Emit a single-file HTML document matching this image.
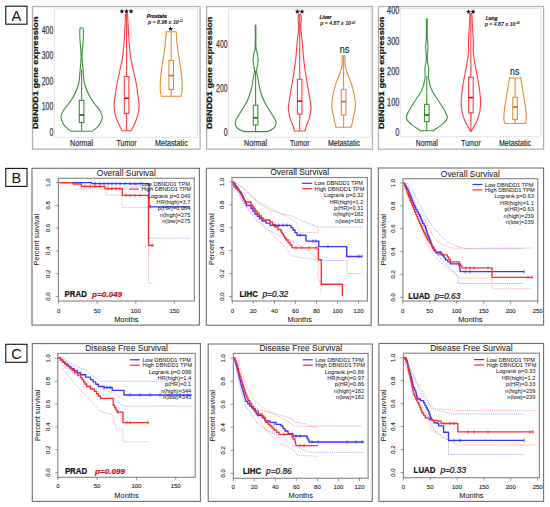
<!DOCTYPE html><html><head><meta charset="utf-8"><style>html,body{margin:0;padding:0;background:#fff;width:550px;height:507px;overflow:hidden;}svg{display:block;}</style></head><body>
<svg width="550" height="507" viewBox="0 0 550 507" font-family='"Liberation Sans", sans-serif'>
<rect x="0" y="0" width="550" height="507" fill="#fff"/>
<rect x="5.80" y="6.20" width="21.20" height="18.00" fill="none" stroke="#111" stroke-width="1.1"/>
<text x="16.40" y="20.60" font-size="14.6" fill="#111" text-anchor="middle">A</text>
<rect x="5.80" y="168.40" width="21.20" height="18.00" fill="none" stroke="#111" stroke-width="1.1"/>
<text x="16.40" y="182.80" font-size="14.6" fill="#111" text-anchor="middle">B</text>
<rect x="5.80" y="344.30" width="21.20" height="18.00" fill="none" stroke="#111" stroke-width="1.1"/>
<text x="16.40" y="358.70" font-size="14.6" fill="#111" text-anchor="middle">C</text>
<rect x="32.50" y="6.50" width="167.60" height="142.70" fill="none" stroke="#b0b0b0" stroke-width="1.25"/>
<rect x="54.30" y="9.00" width="143.30" height="128.30" fill="none" stroke="#dedede" stroke-width="0.8"/>
<text x="53.30" y="135.95" font-size="10.0" fill="#3a3a3a" stroke="#3a3a3a" stroke-width="0.25" text-anchor="end" textLength="3.87" lengthAdjust="spacingAndGlyphs">0</text>
<line x1="53.00" y1="132.40" x2="54.30" y2="132.40" stroke="#bbb" stroke-width="0.6"/>
<text x="53.30" y="110.40" font-size="10.0" fill="#3a3a3a" stroke="#3a3a3a" stroke-width="0.25" text-anchor="end" textLength="11.60" lengthAdjust="spacingAndGlyphs">100</text>
<line x1="53.00" y1="106.85" x2="54.30" y2="106.85" stroke="#bbb" stroke-width="0.6"/>
<text x="53.30" y="84.85" font-size="10.0" fill="#3a3a3a" stroke="#3a3a3a" stroke-width="0.25" text-anchor="end" textLength="11.60" lengthAdjust="spacingAndGlyphs">200</text>
<line x1="53.00" y1="81.30" x2="54.30" y2="81.30" stroke="#bbb" stroke-width="0.6"/>
<text x="53.30" y="59.30" font-size="10.0" fill="#3a3a3a" stroke="#3a3a3a" stroke-width="0.25" text-anchor="end" textLength="11.60" lengthAdjust="spacingAndGlyphs">300</text>
<line x1="53.00" y1="55.75" x2="54.30" y2="55.75" stroke="#bbb" stroke-width="0.6"/>
<text x="53.30" y="33.75" font-size="10.0" fill="#3a3a3a" stroke="#3a3a3a" stroke-width="0.25" text-anchor="end" textLength="11.60" lengthAdjust="spacingAndGlyphs">400</text>
<line x1="53.00" y1="30.20" x2="54.30" y2="30.20" stroke="#bbb" stroke-width="0.6"/>
<text x="37.90" y="72.80" font-size="7.6" fill="#111" stroke="#111" stroke-width="0.22" text-anchor="middle" font-weight="bold" textLength="112.5" lengthAdjust="spacingAndGlyphs" transform="rotate(-90 37.90 72.80)">DBNDD1 gene expression</text>
<text x="81.60" y="145.50" font-size="8.6" fill="#1e1e1e" stroke="#1e1e1e" stroke-width="0.16" text-anchor="middle" textLength="23" lengthAdjust="spacingAndGlyphs">Normal</text>
<line x1="81.60" y1="137.30" x2="81.60" y2="138.50" stroke="#bbb" stroke-width="0.6"/>
<text x="126.50" y="145.50" font-size="8.6" fill="#1e1e1e" stroke="#1e1e1e" stroke-width="0.16" text-anchor="middle" textLength="20" lengthAdjust="spacingAndGlyphs">Tumor</text>
<line x1="126.50" y1="137.30" x2="126.50" y2="138.50" stroke="#bbb" stroke-width="0.6"/>
<text x="171.40" y="145.50" font-size="8.6" fill="#1e1e1e" stroke="#1e1e1e" stroke-width="0.16" text-anchor="middle" textLength="32.7" lengthAdjust="spacingAndGlyphs">Metastatic</text>
<line x1="171.40" y1="137.30" x2="171.40" y2="138.50" stroke="#bbb" stroke-width="0.6"/>
<rect x="206.60" y="6.50" width="165.90" height="142.70" fill="none" stroke="#b0b0b0" stroke-width="1.25"/>
<rect x="228.60" y="9.00" width="142.40" height="128.20" fill="none" stroke="#dedede" stroke-width="0.8"/>
<text x="227.60" y="136.05" font-size="10.0" fill="#3a3a3a" stroke="#3a3a3a" stroke-width="0.25" text-anchor="end" textLength="3.83" lengthAdjust="spacingAndGlyphs">0</text>
<line x1="227.30" y1="132.50" x2="228.60" y2="132.50" stroke="#bbb" stroke-width="0.6"/>
<text x="227.60" y="91.85" font-size="10.0" fill="#3a3a3a" stroke="#3a3a3a" stroke-width="0.25" text-anchor="end" textLength="11.50" lengthAdjust="spacingAndGlyphs">200</text>
<line x1="227.30" y1="88.30" x2="228.60" y2="88.30" stroke="#bbb" stroke-width="0.6"/>
<text x="227.60" y="47.65" font-size="10.0" fill="#3a3a3a" stroke="#3a3a3a" stroke-width="0.25" text-anchor="end" textLength="11.50" lengthAdjust="spacingAndGlyphs">400</text>
<line x1="227.30" y1="44.10" x2="228.60" y2="44.10" stroke="#bbb" stroke-width="0.6"/>
<text x="212.40" y="72.80" font-size="7.6" fill="#111" stroke="#111" stroke-width="0.22" text-anchor="middle" font-weight="bold" textLength="112.5" lengthAdjust="spacingAndGlyphs" transform="rotate(-90 212.40 72.80)">DBNDD1 gene expression</text>
<text x="255.60" y="145.50" font-size="8.6" fill="#1e1e1e" stroke="#1e1e1e" stroke-width="0.16" text-anchor="middle" textLength="23" lengthAdjust="spacingAndGlyphs">Normal</text>
<line x1="255.60" y1="137.20" x2="255.60" y2="138.40" stroke="#bbb" stroke-width="0.6"/>
<text x="299.70" y="145.50" font-size="8.6" fill="#1e1e1e" stroke="#1e1e1e" stroke-width="0.16" text-anchor="middle" textLength="19.5" lengthAdjust="spacingAndGlyphs">Tumor</text>
<line x1="299.70" y1="137.20" x2="299.70" y2="138.40" stroke="#bbb" stroke-width="0.6"/>
<text x="344.00" y="145.50" font-size="8.6" fill="#1e1e1e" stroke="#1e1e1e" stroke-width="0.16" text-anchor="middle" textLength="32.1" lengthAdjust="spacingAndGlyphs">Metastatic</text>
<line x1="344.00" y1="137.20" x2="344.00" y2="138.40" stroke="#bbb" stroke-width="0.6"/>
<rect x="378.50" y="6.50" width="165.10" height="142.70" fill="none" stroke="#b0b0b0" stroke-width="1.25"/>
<rect x="400.30" y="8.50" width="140.70" height="128.30" fill="none" stroke="#dedede" stroke-width="0.8"/>
<text x="399.30" y="135.95" font-size="10.0" fill="#3a3a3a" stroke="#3a3a3a" stroke-width="0.25" text-anchor="end" textLength="4.07" lengthAdjust="spacingAndGlyphs">0</text>
<line x1="399.00" y1="132.40" x2="400.30" y2="132.40" stroke="#bbb" stroke-width="0.6"/>
<text x="399.30" y="105.50" font-size="10.0" fill="#3a3a3a" stroke="#3a3a3a" stroke-width="0.25" text-anchor="end" textLength="12.20" lengthAdjust="spacingAndGlyphs">100</text>
<line x1="399.00" y1="101.95" x2="400.30" y2="101.95" stroke="#bbb" stroke-width="0.6"/>
<text x="399.30" y="75.05" font-size="10.0" fill="#3a3a3a" stroke="#3a3a3a" stroke-width="0.25" text-anchor="end" textLength="12.20" lengthAdjust="spacingAndGlyphs">200</text>
<line x1="399.00" y1="71.50" x2="400.30" y2="71.50" stroke="#bbb" stroke-width="0.6"/>
<text x="399.30" y="44.60" font-size="10.0" fill="#3a3a3a" stroke="#3a3a3a" stroke-width="0.25" text-anchor="end" textLength="12.20" lengthAdjust="spacingAndGlyphs">300</text>
<line x1="399.00" y1="41.05" x2="400.30" y2="41.05" stroke="#bbb" stroke-width="0.6"/>
<text x="399.30" y="14.15" font-size="10.0" fill="#3a3a3a" stroke="#3a3a3a" stroke-width="0.25" text-anchor="end" textLength="12.20" lengthAdjust="spacingAndGlyphs">400</text>
<line x1="399.00" y1="10.60" x2="400.30" y2="10.60" stroke="#bbb" stroke-width="0.6"/>
<text x="383.60" y="72.80" font-size="7.6" fill="#111" stroke="#111" stroke-width="0.22" text-anchor="middle" font-weight="bold" textLength="112.5" lengthAdjust="spacingAndGlyphs" transform="rotate(-90 383.60 72.80)">DBNDD1 gene expression</text>
<text x="426.80" y="145.50" font-size="8.6" fill="#1e1e1e" stroke="#1e1e1e" stroke-width="0.16" text-anchor="middle" textLength="22.1" lengthAdjust="spacingAndGlyphs">Normal</text>
<line x1="426.80" y1="136.80" x2="426.80" y2="138.00" stroke="#bbb" stroke-width="0.6"/>
<text x="471.00" y="145.50" font-size="8.6" fill="#1e1e1e" stroke="#1e1e1e" stroke-width="0.16" text-anchor="middle" textLength="19.3" lengthAdjust="spacingAndGlyphs">Tumor</text>
<line x1="471.00" y1="136.80" x2="471.00" y2="138.00" stroke="#bbb" stroke-width="0.6"/>
<text x="515.00" y="145.50" font-size="8.6" fill="#1e1e1e" stroke="#1e1e1e" stroke-width="0.16" text-anchor="middle" textLength="32" lengthAdjust="spacingAndGlyphs">Metastatic</text>
<line x1="515.00" y1="136.80" x2="515.00" y2="138.00" stroke="#bbb" stroke-width="0.6"/>
<path d="M81.20,27.70 L82.00,27.70 C82.18,27.83 82.87,27.62 83.10,28.50 C83.33,29.38 83.40,30.75 83.40,33.00 C83.40,35.25 83.27,39.17 83.10,42.00 C82.93,44.83 82.58,47.53 82.40,50.00 C82.22,52.47 81.98,54.63 82.00,56.80 C82.02,58.97 82.32,60.73 82.50,63.00 C82.68,65.27 82.75,66.90 83.10,70.40 C83.45,73.90 83.52,79.68 84.60,84.00 C85.68,88.32 87.93,93.02 89.60,96.30 C91.27,99.58 92.85,101.25 94.60,103.70 C96.35,106.15 98.82,108.75 100.10,111.00 C101.38,113.25 102.30,115.13 102.30,117.20 C102.30,119.27 101.05,121.63 100.10,123.40 C99.15,125.17 97.93,126.48 96.60,127.80 C95.27,129.12 92.85,130.72 92.10,131.30 L71.10,131.30 C70.35,130.72 67.93,129.12 66.60,127.80 C65.27,126.48 64.05,125.17 63.10,123.40 C62.15,121.63 60.90,119.27 60.90,117.20 C60.90,115.13 61.82,113.25 63.10,111.00 C64.38,108.75 66.85,106.15 68.60,103.70 C70.35,101.25 71.93,99.58 73.60,96.30 C75.27,93.02 77.52,88.32 78.60,84.00 C79.68,79.68 79.75,73.90 80.10,70.40 C80.45,66.90 80.52,65.27 80.70,63.00 C80.88,60.73 81.18,58.97 81.20,56.80 C81.22,54.63 80.98,52.47 80.80,50.00 C80.62,47.53 80.27,44.83 80.10,42.00 C79.93,39.17 79.80,35.25 79.80,33.00 C79.80,30.75 79.87,29.38 80.10,28.50 C80.33,27.62 81.02,27.83 81.20,27.70 Z" fill="none" stroke="#3b8f3b" stroke-width="1.1" stroke-linejoin="round"/>
<line x1="81.60" y1="69.50" x2="81.60" y2="100.40" stroke="#3b8f3b" stroke-width="1.1"/>
<line x1="81.60" y1="122.50" x2="81.60" y2="131.30" stroke="#3b8f3b" stroke-width="1.1"/>
<rect x="79.30" y="100.40" width="4.60" height="22.10" fill="none" stroke="#3b8f3b" stroke-width="1.1"/>
<line x1="79.30" y1="115.00" x2="83.90" y2="115.00" stroke="#0f6a0f" stroke-width="1.6"/>
<path d="M126.30,13.90 L126.90,13.90 C127.02,14.05 127.40,12.98 127.60,14.80 C127.80,16.62 127.88,20.67 128.10,24.80 C128.32,28.93 128.48,34.27 128.90,39.60 C129.32,44.93 129.82,51.47 130.60,56.80 C131.38,62.13 132.65,67.07 133.60,71.60 C134.55,76.13 135.55,79.88 136.30,84.00 C137.05,88.12 137.63,92.63 138.10,96.30 C138.57,99.97 139.18,102.72 139.10,106.00 C139.02,109.28 138.52,112.70 137.60,116.00 C136.68,119.30 134.68,123.33 133.60,125.80 C132.52,128.27 131.52,129.97 131.10,130.80 L122.10,130.80 C121.68,129.97 120.68,128.27 119.60,125.80 C118.52,123.33 116.52,119.30 115.60,116.00 C114.68,112.70 114.18,109.28 114.10,106.00 C114.02,102.72 114.63,99.97 115.10,96.30 C115.57,92.63 116.15,88.12 116.90,84.00 C117.65,79.88 118.65,76.13 119.60,71.60 C120.55,67.07 121.82,62.13 122.60,56.80 C123.38,51.47 123.88,44.93 124.30,39.60 C124.72,34.27 124.88,28.93 125.10,24.80 C125.32,20.67 125.40,16.62 125.60,14.80 C125.80,12.98 126.18,14.05 126.30,13.90 Z" fill="none" stroke="#ff3b3b" stroke-width="1.1" stroke-linejoin="round"/>
<line x1="126.60" y1="14.00" x2="126.60" y2="76.50" stroke="#ff3b3b" stroke-width="1.1"/>
<line x1="126.60" y1="113.40" x2="126.60" y2="130.80" stroke="#ff3b3b" stroke-width="1.1"/>
<rect x="124.30" y="76.50" width="4.60" height="36.90" fill="none" stroke="#ff3b3b" stroke-width="1.1"/>
<line x1="124.30" y1="98.30" x2="128.90" y2="98.30" stroke="#e00000" stroke-width="1.6"/>
<path d="M166.60,31.70 L175.80,31.70 C175.87,31.92 175.92,30.42 176.20,33.00 C176.48,35.58 176.92,42.37 177.50,47.20 C178.08,52.03 179.00,57.07 179.70,62.00 C180.40,66.93 181.28,72.60 181.70,76.80 C182.12,81.00 182.18,84.50 182.20,87.20 C182.22,89.90 182.00,91.48 181.80,93.00 C181.60,94.52 181.13,95.75 181.00,96.30 L161.40,96.30 C161.27,95.75 160.80,94.52 160.60,93.00 C160.40,91.48 160.18,89.90 160.20,87.20 C160.22,84.50 160.28,81.00 160.70,76.80 C161.12,72.60 162.00,66.93 162.70,62.00 C163.40,57.07 164.32,52.03 164.90,47.20 C165.48,42.37 165.92,35.58 166.20,33.00 C166.48,30.42 166.53,31.92 166.60,31.70 Z" fill="none" stroke="#e38c34" stroke-width="1.1" stroke-linejoin="round"/>
<line x1="171.20" y1="31.70" x2="171.20" y2="60.50" stroke="#e38c34" stroke-width="1.1"/>
<line x1="171.20" y1="89.40" x2="171.20" y2="96.30" stroke="#e38c34" stroke-width="1.1"/>
<rect x="168.90" y="60.50" width="4.60" height="28.90" fill="none" stroke="#e38c34" stroke-width="1.1"/>
<line x1="168.90" y1="75.60" x2="173.50" y2="75.60" stroke="#c86a10" stroke-width="1.6"/>
<path d="M255.40,25.70 L255.80,25.70 C255.82,25.92 255.87,23.45 255.90,27.00 C255.93,30.55 255.78,42.67 256.00,47.00 C256.22,51.33 256.85,50.83 257.20,53.00 C257.55,55.17 258.07,57.83 258.10,60.00 C258.13,62.17 257.65,64.17 257.40,66.00 C257.15,67.83 256.48,68.83 256.60,71.00 C256.72,73.17 257.67,76.43 258.10,79.00 C258.53,81.57 258.62,83.73 259.20,86.40 C259.78,89.07 260.65,92.28 261.60,95.00 C262.55,97.72 263.82,100.53 264.90,102.70 C265.98,104.87 266.93,106.08 268.10,108.00 C269.27,109.92 270.78,112.37 271.90,114.20 C273.02,116.03 274.12,117.63 274.80,119.00 C275.48,120.37 275.90,121.23 276.00,122.40 C276.10,123.57 275.97,124.90 275.40,126.00 C274.83,127.10 273.90,128.07 272.60,129.00 C271.30,129.93 268.43,131.17 267.60,131.60 L243.60,131.60 C242.77,131.17 239.90,129.93 238.60,129.00 C237.30,128.07 236.37,127.10 235.80,126.00 C235.23,124.90 235.10,123.57 235.20,122.40 C235.30,121.23 235.72,120.37 236.40,119.00 C237.08,117.63 238.18,116.03 239.30,114.20 C240.42,112.37 241.93,109.92 243.10,108.00 C244.27,106.08 245.22,104.87 246.30,102.70 C247.38,100.53 248.65,97.72 249.60,95.00 C250.55,92.28 251.42,89.07 252.00,86.40 C252.58,83.73 252.67,81.57 253.10,79.00 C253.53,76.43 254.48,73.17 254.60,71.00 C254.72,68.83 254.05,67.83 253.80,66.00 C253.55,64.17 253.07,62.17 253.10,60.00 C253.13,57.83 253.65,55.17 254.00,53.00 C254.35,50.83 254.98,51.33 255.20,47.00 C255.42,42.67 255.27,30.55 255.30,27.00 C255.33,23.45 255.38,25.92 255.40,25.70 Z" fill="none" stroke="#3b8f3b" stroke-width="1.1" stroke-linejoin="round"/>
<line x1="255.60" y1="71.00" x2="255.60" y2="105.20" stroke="#3b8f3b" stroke-width="1.1"/>
<line x1="255.60" y1="125.00" x2="255.60" y2="131.60" stroke="#3b8f3b" stroke-width="1.1"/>
<rect x="253.30" y="105.20" width="4.60" height="19.80" fill="none" stroke="#3b8f3b" stroke-width="1.1"/>
<line x1="253.30" y1="117.80" x2="257.90" y2="117.80" stroke="#0f6a0f" stroke-width="1.6"/>
<path d="M299.10,14.40 L300.30,14.40 C300.43,14.55 300.93,14.37 301.10,15.30 C301.27,16.23 301.37,18.00 301.30,20.00 C301.23,22.00 300.55,23.63 300.70,27.30 C300.85,30.97 301.70,36.65 302.20,42.00 C302.70,47.35 303.12,54.03 303.70,59.40 C304.28,64.77 304.95,69.27 305.70,74.20 C306.45,79.13 307.45,84.47 308.20,89.00 C308.95,93.53 309.73,98.10 310.20,101.40 C310.67,104.70 311.17,105.93 311.00,108.80 C310.83,111.67 310.00,115.73 309.20,118.60 C308.40,121.47 306.87,123.93 306.20,126.00 C305.53,128.07 305.37,130.17 305.20,131.00 L294.20,131.00 C294.03,130.17 293.87,128.07 293.20,126.00 C292.53,123.93 291.00,121.47 290.20,118.60 C289.40,115.73 288.57,111.67 288.40,108.80 C288.23,105.93 288.73,104.70 289.20,101.40 C289.67,98.10 290.45,93.53 291.20,89.00 C291.95,84.47 292.95,79.13 293.70,74.20 C294.45,69.27 295.12,64.77 295.70,59.40 C296.28,54.03 296.70,47.35 297.20,42.00 C297.70,36.65 298.55,30.97 298.70,27.30 C298.85,23.63 298.17,22.00 298.10,20.00 C298.03,18.00 298.13,16.23 298.30,15.30 C298.47,14.37 298.97,14.55 299.10,14.40 Z" fill="none" stroke="#ff3b3b" stroke-width="1.1" stroke-linejoin="round"/>
<line x1="299.70" y1="14.40" x2="299.70" y2="79.30" stroke="#ff3b3b" stroke-width="1.1"/>
<line x1="299.70" y1="114.20" x2="299.70" y2="131.00" stroke="#ff3b3b" stroke-width="1.1"/>
<rect x="297.40" y="79.30" width="4.60" height="34.90" fill="none" stroke="#ff3b3b" stroke-width="1.1"/>
<line x1="297.40" y1="101.10" x2="302.00" y2="101.10" stroke="#e00000" stroke-width="1.6"/>
<path d="M342.30,55.70 L344.90,55.70 C344.92,55.92 344.97,55.57 345.00,57.00 C345.03,58.43 344.83,61.85 345.10,64.30 C345.37,66.75 345.68,68.82 346.60,71.70 C347.52,74.58 349.35,77.88 350.60,81.60 C351.85,85.32 353.30,89.88 354.10,94.00 C354.90,98.12 355.48,102.60 355.40,106.30 C355.32,110.00 354.15,113.32 353.60,116.20 C353.05,119.08 352.52,121.75 352.10,123.60 C351.68,125.45 351.27,126.68 351.10,127.30 L336.10,127.30 C335.93,126.68 335.52,125.45 335.10,123.60 C334.68,121.75 334.15,119.08 333.60,116.20 C333.05,113.32 331.88,110.00 331.80,106.30 C331.72,102.60 332.30,98.12 333.10,94.00 C333.90,89.88 335.35,85.32 336.60,81.60 C337.85,77.88 339.68,74.58 340.60,71.70 C341.52,68.82 341.83,66.75 342.10,64.30 C342.37,61.85 342.17,58.43 342.20,57.00 C342.23,55.57 342.28,55.92 342.30,55.70 Z" fill="none" stroke="#e38c34" stroke-width="1.1" stroke-linejoin="round"/>
<line x1="343.60" y1="55.70" x2="343.60" y2="89.60" stroke="#e38c34" stroke-width="1.1"/>
<line x1="343.60" y1="115.00" x2="343.60" y2="127.30" stroke="#e38c34" stroke-width="1.1"/>
<rect x="341.30" y="89.60" width="4.60" height="25.40" fill="none" stroke="#e38c34" stroke-width="1.1"/>
<line x1="341.30" y1="101.60" x2="345.90" y2="101.60" stroke="#c86a10" stroke-width="1.6"/>
<path d="M426.60,19.40 L427.00,19.40 C427.03,19.58 427.15,17.40 427.20,20.50 C427.25,23.60 427.17,33.58 427.30,38.00 C427.43,42.42 428.00,44.00 428.00,47.00 C428.00,50.00 427.35,53.33 427.30,56.00 C427.25,58.67 427.45,60.83 427.70,63.00 C427.95,65.17 428.68,66.83 428.80,69.00 C428.92,71.17 428.23,73.50 428.40,76.00 C428.57,78.50 429.15,81.45 429.80,84.00 C430.45,86.55 430.80,88.43 432.30,91.30 C433.80,94.17 436.72,97.92 438.80,101.20 C440.88,104.48 443.38,108.33 444.80,111.00 C446.22,113.67 447.30,115.33 447.30,117.20 C447.30,119.07 446.55,120.35 444.80,122.20 C443.05,124.05 438.80,126.87 436.80,128.30 C434.80,129.73 433.47,130.38 432.80,130.80 L420.80,130.80 C420.13,130.38 418.80,129.73 416.80,128.30 C414.80,126.87 410.55,124.05 408.80,122.20 C407.05,120.35 406.30,119.07 406.30,117.20 C406.30,115.33 407.38,113.67 408.80,111.00 C410.22,108.33 412.72,104.48 414.80,101.20 C416.88,97.92 419.80,94.17 421.30,91.30 C422.80,88.43 423.15,86.55 423.80,84.00 C424.45,81.45 425.03,78.50 425.20,76.00 C425.37,73.50 424.68,71.17 424.80,69.00 C424.92,66.83 425.65,65.17 425.90,63.00 C426.15,60.83 426.35,58.67 426.30,56.00 C426.25,53.33 425.60,50.00 425.60,47.00 C425.60,44.00 426.17,42.42 426.30,38.00 C426.43,33.58 426.35,23.60 426.40,20.50 C426.45,17.40 426.57,19.58 426.60,19.40 Z" fill="none" stroke="#3b8f3b" stroke-width="1.1" stroke-linejoin="round"/>
<line x1="426.80" y1="76.00" x2="426.80" y2="104.40" stroke="#3b8f3b" stroke-width="1.1"/>
<line x1="426.80" y1="121.60" x2="426.80" y2="130.80" stroke="#3b8f3b" stroke-width="1.1"/>
<rect x="424.50" y="104.40" width="4.60" height="17.20" fill="none" stroke="#3b8f3b" stroke-width="1.1"/>
<line x1="424.50" y1="115.00" x2="429.10" y2="115.00" stroke="#0f6a0f" stroke-width="1.6"/>
<path d="M470.60,13.70 L471.20,13.70 C471.32,13.85 471.70,12.75 471.90,14.60 C472.10,16.45 472.15,20.23 472.40,24.80 C472.65,29.37 473.27,37.68 473.40,42.00 C473.53,46.32 472.95,47.00 473.20,50.70 C473.45,54.40 474.20,59.90 474.90,64.20 C475.60,68.50 476.65,72.38 477.40,76.50 C478.15,80.62 478.87,84.78 479.40,88.90 C479.93,93.02 480.52,97.52 480.60,101.20 C480.68,104.88 480.52,107.70 479.90,111.00 C479.28,114.30 478.07,118.12 476.90,121.00 C475.73,123.88 473.82,126.58 472.90,128.30 C471.98,130.02 471.65,130.80 471.40,131.30 L470.40,131.30 C470.15,130.80 469.82,130.02 468.90,128.30 C467.98,126.58 466.07,123.88 464.90,121.00 C463.73,118.12 462.52,114.30 461.90,111.00 C461.28,107.70 461.12,104.88 461.20,101.20 C461.28,97.52 461.87,93.02 462.40,88.90 C462.93,84.78 463.65,80.62 464.40,76.50 C465.15,72.38 466.20,68.50 466.90,64.20 C467.60,59.90 468.35,54.40 468.60,50.70 C468.85,47.00 468.27,46.32 468.40,42.00 C468.53,37.68 469.15,29.37 469.40,24.80 C469.65,20.23 469.70,16.45 469.90,14.60 C470.10,12.75 470.48,13.85 470.60,13.70 Z" fill="none" stroke="#ff3b3b" stroke-width="1.1" stroke-linejoin="round"/>
<line x1="470.90" y1="13.70" x2="470.90" y2="77.30" stroke="#ff3b3b" stroke-width="1.1"/>
<line x1="470.90" y1="112.80" x2="470.90" y2="131.30" stroke="#ff3b3b" stroke-width="1.1"/>
<rect x="468.60" y="77.30" width="4.60" height="35.50" fill="none" stroke="#ff3b3b" stroke-width="1.1"/>
<line x1="468.60" y1="97.60" x2="473.20" y2="97.60" stroke="#e00000" stroke-width="1.6"/>
<path d="M509.60,78.00 L520.60,78.00 C520.65,78.17 520.43,76.25 520.90,79.00 C521.37,81.75 522.62,89.62 523.40,94.50 C524.18,99.38 525.10,104.38 525.60,108.30 C526.10,112.22 526.35,115.80 526.40,118.00 C526.45,120.20 526.12,120.58 525.90,121.50 C525.68,122.42 525.23,123.17 525.10,123.50 L505.10,123.50 C504.97,123.17 504.52,122.42 504.30,121.50 C504.08,120.58 503.75,120.20 503.80,118.00 C503.85,115.80 504.10,112.22 504.60,108.30 C505.10,104.38 506.02,99.38 506.80,94.50 C507.58,89.62 508.83,81.75 509.30,79.00 C509.77,76.25 509.55,78.17 509.60,78.00 Z" fill="none" stroke="#e38c34" stroke-width="1.1" stroke-linejoin="round"/>
<line x1="515.10" y1="78.00" x2="515.10" y2="97.30" stroke="#e38c34" stroke-width="1.1"/>
<line x1="515.10" y1="119.40" x2="515.10" y2="123.50" stroke="#e38c34" stroke-width="1.1"/>
<rect x="512.80" y="97.30" width="4.60" height="22.10" fill="none" stroke="#e38c34" stroke-width="1.1"/>
<line x1="512.80" y1="107.00" x2="517.40" y2="107.00" stroke="#c86a10" stroke-width="1.6"/>
<polygon points="121.90,8.85 122.57,10.47 124.33,10.61 122.99,11.75 123.40,13.46 121.90,12.55 120.40,13.46 120.81,11.75 119.47,10.61 121.23,10.47" fill="#111"/>
<polygon points="126.50,8.85 127.17,10.47 128.93,10.61 127.59,11.75 128.00,13.46 126.50,12.55 125.00,13.46 125.41,11.75 124.07,10.61 125.83,10.47" fill="#111"/>
<polygon points="131.10,8.85 131.77,10.47 133.53,10.61 132.19,11.75 132.60,13.46 131.10,12.55 129.60,13.46 130.01,11.75 128.67,10.61 130.43,10.47" fill="#111"/>
<polygon points="170.60,26.35 171.27,27.97 173.03,28.11 171.69,29.25 172.10,30.96 170.60,30.05 169.10,30.96 169.51,29.25 168.17,28.11 169.93,27.97" fill="#111"/>
<polygon points="297.40,9.05 298.07,10.67 299.83,10.81 298.49,11.95 298.90,13.66 297.40,12.75 295.90,13.66 296.31,11.95 294.97,10.81 296.73,10.67" fill="#111"/>
<polygon points="302.00,9.05 302.67,10.67 304.43,10.81 303.09,11.95 303.50,13.66 302.00,12.75 300.50,13.66 300.91,11.95 299.57,10.81 301.33,10.67" fill="#111"/>
<polygon points="468.50,9.25 469.17,10.87 470.93,11.01 469.59,12.15 470.00,13.86 468.50,12.95 467.00,13.86 467.41,12.15 466.07,11.01 467.83,10.87" fill="#111"/>
<polygon points="473.10,9.25 473.77,10.87 475.53,11.01 474.19,12.15 474.60,13.86 473.10,12.95 471.60,13.86 472.01,12.15 470.67,11.01 472.43,10.87" fill="#111"/>
<text x="344.50" y="52.60" font-size="10.4" fill="#111" stroke="#111" stroke-width="0.1" text-anchor="middle" textLength="9.6" lengthAdjust="spacingAndGlyphs">ns</text>
<text x="514.70" y="74.60" font-size="10.4" fill="#111" stroke="#111" stroke-width="0.1" text-anchor="middle" textLength="9.4" lengthAdjust="spacingAndGlyphs">ns</text>
<text x="146.70" y="18.10" font-size="5.8" fill="#111" stroke="#111" stroke-width="0.22" font-weight="bold" font-style="italic" textLength="20.0" lengthAdjust="spacingAndGlyphs">Prostate</text>
<text x="148.00" y="24.10" font-size="5.2" font-weight="bold" font-style="italic" fill="#111">p = 8.96 x 10<tspan font-size="3.0" dy="-1.8">-11</tspan></text>
<text x="319.40" y="19.00" font-size="5.8" fill="#111" stroke="#111" stroke-width="0.22" font-weight="bold" font-style="italic" textLength="12.2" lengthAdjust="spacingAndGlyphs">Liver</text>
<text x="320.20" y="25.40" font-size="5.2" font-weight="bold" font-style="italic" fill="#111">p = 4.87 x 10<tspan font-size="3.0" dy="-1.8">-43</tspan></text>
<text x="485.70" y="19.90" font-size="5.8" fill="#111" stroke="#111" stroke-width="0.22" font-weight="bold" font-style="italic" textLength="11.6" lengthAdjust="spacingAndGlyphs">Lung</text>
<text x="484.70" y="26.20" font-size="5.2" font-weight="bold" font-style="italic" fill="#111">p = 4.87 x 10<tspan font-size="3.0" dy="-1.8">-43</tspan></text>
<rect x="32.00" y="168.30" width="167.40" height="156.80" fill="none" stroke="#6e6e6e" stroke-width="1.1"/>
<rect x="58.40" y="178.30" width="135.90" height="122.70" fill="none" stroke="#888888" stroke-width="1.15"/>
<line x1="55.60" y1="296.50" x2="58.40" y2="296.50" stroke="#555" stroke-width="0.6"/>
<text x="48.40" y="296.50" font-size="6.0" fill="#1a1a1a" stroke="#1a1a1a" stroke-width="0.1" text-anchor="middle" transform="rotate(-90 48.40 296.50)" dominant-baseline="central">0.0</text>
<line x1="55.60" y1="273.72" x2="58.40" y2="273.72" stroke="#555" stroke-width="0.6"/>
<text x="48.40" y="273.72" font-size="6.0" fill="#1a1a1a" stroke="#1a1a1a" stroke-width="0.1" text-anchor="middle" transform="rotate(-90 48.40 273.72)" dominant-baseline="central">0.2</text>
<line x1="55.60" y1="250.94" x2="58.40" y2="250.94" stroke="#555" stroke-width="0.6"/>
<text x="48.40" y="250.94" font-size="6.0" fill="#1a1a1a" stroke="#1a1a1a" stroke-width="0.1" text-anchor="middle" transform="rotate(-90 48.40 250.94)" dominant-baseline="central">0.4</text>
<line x1="55.60" y1="228.16" x2="58.40" y2="228.16" stroke="#555" stroke-width="0.6"/>
<text x="48.40" y="228.16" font-size="6.0" fill="#1a1a1a" stroke="#1a1a1a" stroke-width="0.1" text-anchor="middle" transform="rotate(-90 48.40 228.16)" dominant-baseline="central">0.6</text>
<line x1="55.60" y1="205.38" x2="58.40" y2="205.38" stroke="#555" stroke-width="0.6"/>
<text x="48.40" y="205.38" font-size="6.0" fill="#1a1a1a" stroke="#1a1a1a" stroke-width="0.1" text-anchor="middle" transform="rotate(-90 48.40 205.38)" dominant-baseline="central">0.8</text>
<line x1="55.60" y1="182.60" x2="58.40" y2="182.60" stroke="#555" stroke-width="0.6"/>
<text x="48.40" y="182.60" font-size="6.0" fill="#1a1a1a" stroke="#1a1a1a" stroke-width="0.1" text-anchor="middle" transform="rotate(-90 48.40 182.60)" dominant-baseline="central">1.0</text>
<line x1="58.60" y1="301.00" x2="58.60" y2="303.80" stroke="#555" stroke-width="0.6"/>
<text x="58.60" y="313.00" font-size="6.0" fill="#1a1a1a" stroke="#1a1a1a" stroke-width="0.1" text-anchor="middle">0</text>
<line x1="97.20" y1="301.00" x2="97.20" y2="303.80" stroke="#555" stroke-width="0.6"/>
<text x="97.20" y="313.00" font-size="6.0" fill="#1a1a1a" stroke="#1a1a1a" stroke-width="0.1" text-anchor="middle">50</text>
<line x1="135.80" y1="301.00" x2="135.80" y2="303.80" stroke="#555" stroke-width="0.6"/>
<text x="135.80" y="313.00" font-size="6.0" fill="#1a1a1a" stroke="#1a1a1a" stroke-width="0.1" text-anchor="middle">100</text>
<line x1="174.40" y1="301.00" x2="174.40" y2="303.80" stroke="#555" stroke-width="0.6"/>
<text x="174.40" y="313.00" font-size="6.0" fill="#1a1a1a" stroke="#1a1a1a" stroke-width="0.1" text-anchor="middle">150</text>
<text x="126.35" y="176.10" font-size="8.5" fill="#111" stroke="#111" stroke-width="0.03" text-anchor="middle" textLength="59" lengthAdjust="spacingAndGlyphs">Overall Survival</text>
<text x="126.35" y="321.90" font-size="8.0" fill="#111" stroke="#111" stroke-width="0.05" text-anchor="middle" textLength="24.3" lengthAdjust="spacingAndGlyphs">Months</text>
<text x="36.80" y="239.65" font-size="8.0" fill="#1a1a1a" stroke="#1a1a1a" stroke-width="0.05" text-anchor="middle" textLength="51.5" lengthAdjust="spacingAndGlyphs" transform="rotate(-90 36.80 239.65)" dominant-baseline="central">Percent survival</text>
<polyline points="75.00,189.00 106.00,189.00 106.00,195.00 122.00,195.00 122.00,207.40 148.50,207.40 148.50,283.30 153.00,283.30" fill="none" stroke="#ff8a8a" stroke-width="0.7" stroke-linejoin="round" stroke-dasharray="1.2,0.9"/>
<polyline points="149.00,238.20 190.00,238.20" fill="none" stroke="#8c8cff" stroke-width="0.7" stroke-linejoin="round" stroke-dasharray="1.2,0.9"/>
<polyline points="92.00,187.00 149.00,187.00" fill="none" stroke="#8c8cff" stroke-width="0.7" stroke-linejoin="round" stroke-dasharray="1.2,0.9"/>
<polyline points="59.50,182.60 91.40,182.60 91.40,183.60 149.00,183.60 149.00,206.80 190.00,206.80" fill="none" stroke="#3636ff" stroke-width="1.35" stroke-linejoin="round"/>
<polyline points="59.50,182.60 73.20,182.60 73.20,184.00 81.40,184.00 81.40,186.30 105.00,186.30 105.00,188.60 122.30,188.60 122.30,195.40 148.50,195.40 148.50,245.30 154.00,245.30" fill="none" stroke="#ff2a2a" stroke-width="1.35" stroke-linejoin="round"/>
<line x1="95.00" y1="181.90" x2="95.00" y2="185.30" stroke="#3636ff" stroke-width="0.8"/>
<line x1="100.00" y1="181.90" x2="100.00" y2="185.30" stroke="#3636ff" stroke-width="0.8"/>
<line x1="104.00" y1="181.90" x2="104.00" y2="185.30" stroke="#3636ff" stroke-width="0.8"/>
<line x1="108.00" y1="181.90" x2="108.00" y2="185.30" stroke="#3636ff" stroke-width="0.8"/>
<line x1="112.00" y1="181.90" x2="112.00" y2="185.30" stroke="#3636ff" stroke-width="0.8"/>
<line x1="116.00" y1="181.90" x2="116.00" y2="185.30" stroke="#3636ff" stroke-width="0.8"/>
<line x1="120.00" y1="181.90" x2="120.00" y2="185.30" stroke="#3636ff" stroke-width="0.8"/>
<line x1="125.00" y1="181.90" x2="125.00" y2="185.30" stroke="#3636ff" stroke-width="0.8"/>
<line x1="130.00" y1="181.90" x2="130.00" y2="185.30" stroke="#3636ff" stroke-width="0.8"/>
<line x1="135.00" y1="181.90" x2="135.00" y2="185.30" stroke="#3636ff" stroke-width="0.8"/>
<line x1="140.00" y1="181.90" x2="140.00" y2="185.30" stroke="#3636ff" stroke-width="0.8"/>
<line x1="85.00" y1="184.60" x2="85.00" y2="188.00" stroke="#ff2a2a" stroke-width="0.8"/>
<line x1="90.00" y1="184.60" x2="90.00" y2="188.00" stroke="#ff2a2a" stroke-width="0.8"/>
<line x1="95.00" y1="184.60" x2="95.00" y2="188.00" stroke="#ff2a2a" stroke-width="0.8"/>
<line x1="100.00" y1="184.60" x2="100.00" y2="188.00" stroke="#ff2a2a" stroke-width="0.8"/>
<line x1="108.00" y1="186.90" x2="108.00" y2="190.30" stroke="#ff2a2a" stroke-width="0.8"/>
<line x1="112.00" y1="186.90" x2="112.00" y2="190.30" stroke="#ff2a2a" stroke-width="0.8"/>
<line x1="116.00" y1="186.90" x2="116.00" y2="190.30" stroke="#ff2a2a" stroke-width="0.8"/>
<line x1="120.00" y1="186.90" x2="120.00" y2="190.30" stroke="#ff2a2a" stroke-width="0.8"/>
<line x1="126.00" y1="193.70" x2="126.00" y2="197.10" stroke="#ff2a2a" stroke-width="0.8"/>
<line x1="130.00" y1="193.70" x2="130.00" y2="197.10" stroke="#ff2a2a" stroke-width="0.8"/>
<line x1="135.00" y1="193.70" x2="135.00" y2="197.10" stroke="#ff2a2a" stroke-width="0.8"/>
<line x1="140.00" y1="193.70" x2="140.00" y2="197.10" stroke="#ff2a2a" stroke-width="0.8"/>
<line x1="150.50" y1="205.10" x2="150.50" y2="208.50" stroke="#3636ff" stroke-width="0.8"/>
<line x1="152.00" y1="243.60" x2="152.00" y2="247.00" stroke="#ff2a2a" stroke-width="0.8"/>
<text x="141.50" y="185.70" font-size="5.65" fill="#1a1a1a" stroke="#1a1a1a" stroke-width="0.04">Low DBNDD1 TPM</text>
<text x="141.50" y="191.10" font-size="5.65" fill="#1a1a1a" stroke="#1a1a1a" stroke-width="0.04">High DBNDD1 TPM</text>
<text x="190.30" y="197.50" font-size="5.65" fill="#1a1a1a" stroke="#1a1a1a" stroke-width="0.04" text-anchor="end">Logrank p=0.049</text>
<text x="190.30" y="203.90" font-size="5.65" fill="#1a1a1a" stroke="#1a1a1a" stroke-width="0.04" text-anchor="end">HR(high)=3.7</text>
<text x="190.30" y="210.30" font-size="5.65" fill="#1a1a1a" stroke="#1a1a1a" stroke-width="0.04" text-anchor="end">p(HR)=0.064</text>
<text x="190.30" y="216.70" font-size="5.65" fill="#1a1a1a" stroke="#1a1a1a" stroke-width="0.04" text-anchor="end">n(high)=275</text>
<text x="190.30" y="223.10" font-size="5.65" fill="#1a1a1a" stroke="#1a1a1a" stroke-width="0.04" text-anchor="end">n(low)=275</text>
<line x1="129.00" y1="183.70" x2="139.00" y2="183.70" stroke="#3636ff" stroke-width="1.2"/>
<line x1="129.00" y1="189.10" x2="139.00" y2="189.10" stroke="#ff2a2a" stroke-width="1.2"/>
<text x="64.60" y="296.90" font-size="8.7" fill="#111" stroke="#111" stroke-width="0.22" font-weight="bold" textLength="22.2" lengthAdjust="spacingAndGlyphs">PRAD</text>
<text x="92.00" y="297.40" font-size="8.1" fill="#c4121c" stroke="#c4121c" stroke-width="0.22" font-weight="bold" font-style="italic">p=0.049</text>
<rect x="206.30" y="168.30" width="164.90" height="157.00" fill="none" stroke="#6e6e6e" stroke-width="1.1"/>
<rect x="232.00" y="177.50" width="135.40" height="123.50" fill="none" stroke="#888888" stroke-width="1.15"/>
<line x1="229.20" y1="296.50" x2="232.00" y2="296.50" stroke="#555" stroke-width="0.6"/>
<text x="222.00" y="296.50" font-size="6.0" fill="#1a1a1a" stroke="#1a1a1a" stroke-width="0.1" text-anchor="middle" transform="rotate(-90 222.00 296.50)" dominant-baseline="central">0.0</text>
<line x1="229.20" y1="273.58" x2="232.00" y2="273.58" stroke="#555" stroke-width="0.6"/>
<text x="222.00" y="273.58" font-size="6.0" fill="#1a1a1a" stroke="#1a1a1a" stroke-width="0.1" text-anchor="middle" transform="rotate(-90 222.00 273.58)" dominant-baseline="central">0.2</text>
<line x1="229.20" y1="250.66" x2="232.00" y2="250.66" stroke="#555" stroke-width="0.6"/>
<text x="222.00" y="250.66" font-size="6.0" fill="#1a1a1a" stroke="#1a1a1a" stroke-width="0.1" text-anchor="middle" transform="rotate(-90 222.00 250.66)" dominant-baseline="central">0.4</text>
<line x1="229.20" y1="227.74" x2="232.00" y2="227.74" stroke="#555" stroke-width="0.6"/>
<text x="222.00" y="227.74" font-size="6.0" fill="#1a1a1a" stroke="#1a1a1a" stroke-width="0.1" text-anchor="middle" transform="rotate(-90 222.00 227.74)" dominant-baseline="central">0.6</text>
<line x1="229.20" y1="204.82" x2="232.00" y2="204.82" stroke="#555" stroke-width="0.6"/>
<text x="222.00" y="204.82" font-size="6.0" fill="#1a1a1a" stroke="#1a1a1a" stroke-width="0.1" text-anchor="middle" transform="rotate(-90 222.00 204.82)" dominant-baseline="central">0.8</text>
<line x1="229.20" y1="181.90" x2="232.00" y2="181.90" stroke="#555" stroke-width="0.6"/>
<text x="222.00" y="181.90" font-size="6.0" fill="#1a1a1a" stroke="#1a1a1a" stroke-width="0.1" text-anchor="middle" transform="rotate(-90 222.00 181.90)" dominant-baseline="central">1.0</text>
<line x1="232.30" y1="301.00" x2="232.30" y2="303.80" stroke="#555" stroke-width="0.6"/>
<text x="232.30" y="313.00" font-size="6.0" fill="#1a1a1a" stroke="#1a1a1a" stroke-width="0.1" text-anchor="middle">0</text>
<line x1="253.35" y1="301.00" x2="253.35" y2="303.80" stroke="#555" stroke-width="0.6"/>
<text x="253.35" y="313.00" font-size="6.0" fill="#1a1a1a" stroke="#1a1a1a" stroke-width="0.1" text-anchor="middle">20</text>
<line x1="274.40" y1="301.00" x2="274.40" y2="303.80" stroke="#555" stroke-width="0.6"/>
<text x="274.40" y="313.00" font-size="6.0" fill="#1a1a1a" stroke="#1a1a1a" stroke-width="0.1" text-anchor="middle">40</text>
<line x1="295.45" y1="301.00" x2="295.45" y2="303.80" stroke="#555" stroke-width="0.6"/>
<text x="295.45" y="313.00" font-size="6.0" fill="#1a1a1a" stroke="#1a1a1a" stroke-width="0.1" text-anchor="middle">60</text>
<line x1="316.50" y1="301.00" x2="316.50" y2="303.80" stroke="#555" stroke-width="0.6"/>
<text x="316.50" y="313.00" font-size="6.0" fill="#1a1a1a" stroke="#1a1a1a" stroke-width="0.1" text-anchor="middle">80</text>
<line x1="337.55" y1="301.00" x2="337.55" y2="303.80" stroke="#555" stroke-width="0.6"/>
<text x="337.55" y="313.00" font-size="6.0" fill="#1a1a1a" stroke="#1a1a1a" stroke-width="0.1" text-anchor="middle">100</text>
<line x1="358.60" y1="301.00" x2="358.60" y2="303.80" stroke="#555" stroke-width="0.6"/>
<text x="358.60" y="313.00" font-size="6.0" fill="#1a1a1a" stroke="#1a1a1a" stroke-width="0.1" text-anchor="middle">120</text>
<text x="299.70" y="175.30" font-size="8.5" fill="#111" stroke="#111" stroke-width="0.03" text-anchor="middle" textLength="59" lengthAdjust="spacingAndGlyphs">Overall Survival</text>
<text x="299.70" y="322.10" font-size="8.0" fill="#111" stroke="#111" stroke-width="0.05" text-anchor="middle" textLength="24.3" lengthAdjust="spacingAndGlyphs">Months</text>
<text x="211.10" y="239.25" font-size="8.0" fill="#1a1a1a" stroke="#1a1a1a" stroke-width="0.05" text-anchor="middle" textLength="51.5" lengthAdjust="spacingAndGlyphs" transform="rotate(-90 211.10 239.25)" dominant-baseline="central">Percent survival</text>
<polyline points="238.00,184.00 248.00,193.00 258.00,203.00 270.00,210.00 282.00,214.00 292.00,216.00 300.00,220.00 318.00,227.00 362.00,227.00" fill="none" stroke="#8c8cff" stroke-width="0.7" stroke-linejoin="round" stroke-dasharray="1.2,0.9"/>
<polyline points="238.00,192.00 246.00,207.00 256.00,220.00 268.00,230.00 280.00,236.00 292.00,241.00 306.00,249.00 320.00,260.50 347.00,260.50 347.00,273.50 362.00,273.50" fill="none" stroke="#8c8cff" stroke-width="0.7" stroke-linejoin="round" stroke-dasharray="1.2,0.9"/>
<polyline points="236.00,183.00 246.00,190.00 256.00,200.00 268.00,207.00 282.00,214.00 296.00,222.00 300.00,232.60 318.00,232.60 318.00,227.00" fill="none" stroke="#ff8a8a" stroke-width="0.7" stroke-linejoin="round" stroke-dasharray="1.2,0.9"/>
<polyline points="238.00,195.00 248.00,208.00 258.00,219.00 270.00,232.00 282.00,244.00 292.00,256.00 318.00,260.00 318.00,277.00 321.00,284.00 321.00,293.00" fill="none" stroke="#ff8a8a" stroke-width="0.7" stroke-linejoin="round" stroke-dasharray="1.2,0.9"/>
<polyline points="232.50,181.90 234.00,181.90 234.00,183.95 235.50,183.95 235.50,186.00 236.88,186.00 236.88,188.00 238.25,188.00 238.25,190.00 239.62,190.00 239.62,192.00 241.00,192.00 241.00,194.00 242.10,194.00 242.10,196.30 243.20,196.30 243.20,198.60 244.30,198.60 244.30,200.90 245.40,200.90 245.40,203.20 246.50,203.20 246.50,205.50 251.00,205.50 251.00,208.50 253.00,208.50 253.00,211.25 255.00,211.25 255.00,214.00 257.33,214.00 257.33,216.33 259.67,216.33 259.67,218.67 262.00,218.67 262.00,221.00 266.00,221.00 266.00,223.15 270.00,223.15 270.00,225.30 289.00,225.30 291.00,225.30 291.00,227.65 293.00,227.65 293.00,230.00 295.00,230.00 295.00,232.60 297.00,232.60 297.00,235.20 306.00,235.20 306.00,241.10 318.80,241.10 318.80,246.60 346.70,246.60 346.70,256.50 362.00,256.50" fill="none" stroke="#3636ff" stroke-width="1.35" stroke-linejoin="round"/>
<polyline points="232.50,181.90 233.25,181.90 233.25,184.45 234.00,184.45 234.00,187.00 236.00,187.00 236.00,189.00 238.00,189.00 238.00,191.00 240.00,191.00 240.00,193.00 241.25,193.00 241.25,195.25 242.50,195.25 242.50,197.50 243.75,197.50 243.75,199.75 245.00,199.75 245.00,202.00 251.00,202.00 251.00,205.00 252.50,205.00 252.50,207.00 254.00,207.00 254.00,209.00 255.50,209.00 255.50,211.00 257.00,211.00 257.00,213.00 259.00,213.00 259.00,215.33 261.00,215.33 261.00,217.67 263.00,217.67 263.00,220.00 270.00,220.00 270.00,222.00 272.50,222.00 272.50,224.50 275.00,224.50 275.00,227.00 278.00,227.00 278.00,229.50 281.00,229.50 281.00,232.00 282.25,232.00 282.25,234.00 283.50,234.00 283.50,236.00 284.75,236.00 284.75,238.00 286.00,238.00 286.00,240.00 288.00,240.00 288.00,242.50 290.00,242.50 290.00,245.00 292.00,245.00 292.00,247.80 318.40,247.80 318.40,259.70 321.30,259.70 321.30,284.20 342.40,284.20 342.40,296.10" fill="none" stroke="#ff2a2a" stroke-width="1.35" stroke-linejoin="round"/>
<line x1="275.00" y1="223.60" x2="275.00" y2="227.00" stroke="#3636ff" stroke-width="0.8"/>
<line x1="279.00" y1="223.60" x2="279.00" y2="227.00" stroke="#3636ff" stroke-width="0.8"/>
<line x1="283.00" y1="223.60" x2="283.00" y2="227.00" stroke="#3636ff" stroke-width="0.8"/>
<line x1="287.00" y1="223.60" x2="287.00" y2="227.00" stroke="#3636ff" stroke-width="0.8"/>
<line x1="300.00" y1="233.50" x2="300.00" y2="236.90" stroke="#3636ff" stroke-width="0.8"/>
<line x1="313.00" y1="239.40" x2="313.00" y2="242.80" stroke="#3636ff" stroke-width="0.8"/>
<line x1="316.00" y1="239.40" x2="316.00" y2="242.80" stroke="#3636ff" stroke-width="0.8"/>
<line x1="328.00" y1="244.90" x2="328.00" y2="248.30" stroke="#3636ff" stroke-width="0.8"/>
<line x1="359.00" y1="254.80" x2="359.00" y2="258.20" stroke="#3636ff" stroke-width="0.8"/>
<line x1="362.00" y1="254.80" x2="362.00" y2="258.20" stroke="#3636ff" stroke-width="0.8"/>
<line x1="296.00" y1="246.10" x2="296.00" y2="249.50" stroke="#ff2a2a" stroke-width="0.8"/>
<line x1="302.00" y1="246.10" x2="302.00" y2="249.50" stroke="#ff2a2a" stroke-width="0.8"/>
<line x1="309.00" y1="246.10" x2="309.00" y2="249.50" stroke="#ff2a2a" stroke-width="0.8"/>
<line x1="316.00" y1="246.10" x2="316.00" y2="249.50" stroke="#ff2a2a" stroke-width="0.8"/>
<text x="314.60" y="185.30" font-size="5.65" fill="#1a1a1a" stroke="#1a1a1a" stroke-width="0.04">Low DBNDD1 TPM</text>
<text x="314.60" y="190.70" font-size="5.65" fill="#1a1a1a" stroke="#1a1a1a" stroke-width="0.04">High DBNDD1 TPM</text>
<text x="363.40" y="197.10" font-size="5.65" fill="#1a1a1a" stroke="#1a1a1a" stroke-width="0.04" text-anchor="end">Logrank p=0.32</text>
<text x="363.40" y="203.50" font-size="5.65" fill="#1a1a1a" stroke="#1a1a1a" stroke-width="0.04" text-anchor="end">HR(high)=1.2</text>
<text x="363.40" y="209.90" font-size="5.65" fill="#1a1a1a" stroke="#1a1a1a" stroke-width="0.04" text-anchor="end">p(HR)=0.31</text>
<text x="363.40" y="216.30" font-size="5.65" fill="#1a1a1a" stroke="#1a1a1a" stroke-width="0.04" text-anchor="end">n(high)=182</text>
<text x="363.40" y="222.70" font-size="5.65" fill="#1a1a1a" stroke="#1a1a1a" stroke-width="0.04" text-anchor="end">n(low)=182</text>
<line x1="302.10" y1="183.30" x2="312.10" y2="183.30" stroke="#3636ff" stroke-width="1.2"/>
<line x1="302.10" y1="188.70" x2="312.10" y2="188.70" stroke="#ff2a2a" stroke-width="1.2"/>
<text x="239.40" y="297.00" font-size="8.7" fill="#111" stroke="#111" stroke-width="0.22" font-weight="bold" textLength="18.5" lengthAdjust="spacingAndGlyphs">LIHC</text>
<text x="262.50" y="297.00" font-size="8.3" fill="#111" stroke="#111" stroke-width="0.22" font-style="italic">p=0.32</text>
<rect x="378.30" y="168.00" width="165.30" height="157.00" fill="none" stroke="#6e6e6e" stroke-width="1.1"/>
<rect x="402.90" y="178.70" width="134.90" height="122.30" fill="none" stroke="#888888" stroke-width="1.15"/>
<line x1="400.10" y1="297.20" x2="402.90" y2="297.20" stroke="#555" stroke-width="0.6"/>
<text x="392.90" y="297.20" font-size="6.0" fill="#1a1a1a" stroke="#1a1a1a" stroke-width="0.1" text-anchor="middle" transform="rotate(-90 392.90 297.20)" dominant-baseline="central">0.0</text>
<line x1="400.10" y1="274.36" x2="402.90" y2="274.36" stroke="#555" stroke-width="0.6"/>
<text x="392.90" y="274.36" font-size="6.0" fill="#1a1a1a" stroke="#1a1a1a" stroke-width="0.1" text-anchor="middle" transform="rotate(-90 392.90 274.36)" dominant-baseline="central">0.2</text>
<line x1="400.10" y1="251.52" x2="402.90" y2="251.52" stroke="#555" stroke-width="0.6"/>
<text x="392.90" y="251.52" font-size="6.0" fill="#1a1a1a" stroke="#1a1a1a" stroke-width="0.1" text-anchor="middle" transform="rotate(-90 392.90 251.52)" dominant-baseline="central">0.4</text>
<line x1="400.10" y1="228.68" x2="402.90" y2="228.68" stroke="#555" stroke-width="0.6"/>
<text x="392.90" y="228.68" font-size="6.0" fill="#1a1a1a" stroke="#1a1a1a" stroke-width="0.1" text-anchor="middle" transform="rotate(-90 392.90 228.68)" dominant-baseline="central">0.6</text>
<line x1="400.10" y1="205.84" x2="402.90" y2="205.84" stroke="#555" stroke-width="0.6"/>
<text x="392.90" y="205.84" font-size="6.0" fill="#1a1a1a" stroke="#1a1a1a" stroke-width="0.1" text-anchor="middle" transform="rotate(-90 392.90 205.84)" dominant-baseline="central">0.8</text>
<line x1="400.10" y1="183.00" x2="402.90" y2="183.00" stroke="#555" stroke-width="0.6"/>
<text x="392.90" y="183.00" font-size="6.0" fill="#1a1a1a" stroke="#1a1a1a" stroke-width="0.1" text-anchor="middle" transform="rotate(-90 392.90 183.00)" dominant-baseline="central">1.0</text>
<line x1="402.70" y1="301.00" x2="402.70" y2="303.80" stroke="#555" stroke-width="0.6"/>
<text x="402.70" y="313.00" font-size="6.0" fill="#1a1a1a" stroke="#1a1a1a" stroke-width="0.1" text-anchor="middle">0</text>
<line x1="429.70" y1="301.00" x2="429.70" y2="303.80" stroke="#555" stroke-width="0.6"/>
<text x="429.70" y="313.00" font-size="6.0" fill="#1a1a1a" stroke="#1a1a1a" stroke-width="0.1" text-anchor="middle">50</text>
<line x1="456.70" y1="301.00" x2="456.70" y2="303.80" stroke="#555" stroke-width="0.6"/>
<text x="456.70" y="313.00" font-size="6.0" fill="#1a1a1a" stroke="#1a1a1a" stroke-width="0.1" text-anchor="middle">100</text>
<line x1="483.70" y1="301.00" x2="483.70" y2="303.80" stroke="#555" stroke-width="0.6"/>
<text x="483.70" y="313.00" font-size="6.0" fill="#1a1a1a" stroke="#1a1a1a" stroke-width="0.1" text-anchor="middle">150</text>
<line x1="510.70" y1="301.00" x2="510.70" y2="303.80" stroke="#555" stroke-width="0.6"/>
<text x="510.70" y="313.00" font-size="6.0" fill="#1a1a1a" stroke="#1a1a1a" stroke-width="0.1" text-anchor="middle">200</text>
<line x1="537.70" y1="301.00" x2="537.70" y2="303.80" stroke="#555" stroke-width="0.6"/>
<text x="537.70" y="313.00" font-size="6.0" fill="#1a1a1a" stroke="#1a1a1a" stroke-width="0.1" text-anchor="middle">250</text>
<text x="470.35" y="176.50" font-size="8.5" fill="#111" stroke="#111" stroke-width="0.03" text-anchor="middle" textLength="59" lengthAdjust="spacingAndGlyphs">Overall Survival</text>
<text x="470.35" y="321.80" font-size="8.0" fill="#111" stroke="#111" stroke-width="0.05" text-anchor="middle" textLength="24.3" lengthAdjust="spacingAndGlyphs">Months</text>
<text x="383.10" y="239.85" font-size="8.0" fill="#1a1a1a" stroke="#1a1a1a" stroke-width="0.05" text-anchor="middle" textLength="51.5" lengthAdjust="spacingAndGlyphs" transform="rotate(-90 383.10 239.85)" dominant-baseline="central">Percent survival</text>
<polyline points="407.00,183.00 413.00,192.00 419.00,203.00 425.00,215.00 432.00,226.00 440.00,235.00 448.00,242.00 456.00,246.00 464.00,248.50 524.00,248.50" fill="none" stroke="#8c8cff" stroke-width="0.7" stroke-linejoin="round" stroke-dasharray="1.2,0.9"/>
<polyline points="408.00,190.00 414.00,203.00 420.00,215.00 426.00,232.00 432.00,248.00 440.00,258.00 450.00,268.00 458.00,276.00 458.00,283.50 524.00,283.50" fill="none" stroke="#8c8cff" stroke-width="0.7" stroke-linejoin="round" stroke-dasharray="1.2,0.9"/>
<polyline points="405.00,184.00 412.00,196.00 420.00,210.00 427.00,224.00 433.00,236.00 440.00,244.00 448.00,247.00 460.00,249.00 492.00,248.00 532.00,248.00" fill="none" stroke="#ff8a8a" stroke-width="0.7" stroke-linejoin="round" stroke-dasharray="1.2,0.9"/>
<polyline points="406.00,192.00 412.00,205.00 418.00,220.00 424.00,235.00 430.00,250.00 440.00,262.00 450.00,270.00 460.00,278.00 492.00,278.00 492.00,288.80 532.00,288.80" fill="none" stroke="#ff8a8a" stroke-width="0.7" stroke-linejoin="round" stroke-dasharray="1.2,0.9"/>
<polyline points="403.50,183.20 404.97,183.20 404.97,185.73 406.43,185.73 406.43,188.27 407.90,188.27 407.90,190.80 408.88,190.80 408.88,193.25 409.85,193.25 409.85,195.70 410.82,195.70 410.82,198.15 411.80,198.15 411.80,200.60 412.80,200.60 412.80,202.82 413.80,202.82 413.80,205.05 414.80,205.05 414.80,207.28 415.80,207.28 415.80,209.50 417.10,209.50 417.10,211.80 418.40,211.80 418.40,214.10 419.70,214.10 419.70,216.40 420.70,216.40 420.70,218.70 421.70,218.70 421.70,221.00 422.70,221.00 422.70,223.30 424.15,223.30 424.15,225.80 425.60,225.80 425.60,228.30 426.27,228.30 426.27,230.60 426.93,230.60 426.93,232.90 427.60,232.90 427.60,235.20 428.60,235.20 428.60,237.50 429.60,237.50 429.60,239.80 430.60,239.80 430.60,242.10 431.23,242.10 431.23,244.07 431.87,244.07 431.87,246.03 432.50,246.03 432.50,248.00 434.00,248.00 434.00,250.45 435.50,250.45 435.50,252.90 441.40,252.90 441.40,253.90 442.73,253.90 442.73,255.87 444.07,255.87 444.07,257.83 445.40,257.83 445.40,259.80 447.85,259.80 447.85,261.80 450.30,261.80 450.30,263.80 459.20,263.80 459.20,265.70 459.53,265.70 459.53,267.67 459.87,267.67 459.87,269.63 460.20,269.63 460.20,271.60 524.00,271.60" fill="none" stroke="#3636ff" stroke-width="1.35" stroke-linejoin="round"/>
<polyline points="403.50,183.20 404.38,183.20 404.38,185.50 405.26,185.50 405.26,187.80 406.14,187.80 406.14,190.10 407.02,190.10 407.02,192.40 407.90,192.40 407.90,194.70 408.68,194.70 408.68,196.68 409.46,196.68 409.46,198.66 410.24,198.66 410.24,200.64 411.02,200.64 411.02,202.62 411.80,202.62 411.80,204.60 412.80,204.60 412.80,207.05 413.80,207.05 413.80,209.50 414.80,209.50 414.80,211.95 415.80,211.95 415.80,214.40 416.77,214.40 416.77,216.62 417.75,216.62 417.75,218.85 418.73,218.85 418.73,221.08 419.70,221.08 419.70,223.30 420.70,223.30 420.70,225.53 421.70,225.53 421.70,227.75 422.70,227.75 422.70,229.97 423.70,229.97 423.70,232.20 424.68,232.20 424.68,234.17 425.65,234.17 425.65,236.15 426.62,236.15 426.62,238.12 427.60,238.12 427.60,240.10 428.93,240.10 428.93,242.07 430.27,242.07 430.27,244.03 431.60,244.03 431.60,246.00 432.90,246.00 432.90,247.97 434.20,247.97 434.20,249.93 435.50,249.93 435.50,251.90 441.40,251.90 441.40,254.90 447.30,254.90 447.30,256.90 448.80,256.90 448.80,259.35 450.30,259.35 450.30,261.80 459.20,261.80 459.20,263.80 460.60,263.80 460.60,265.80 462.00,265.80 462.00,267.80 492.00,267.80 492.00,277.30 532.80,277.30" fill="none" stroke="#ff2a2a" stroke-width="1.35" stroke-linejoin="round"/>
<line x1="438.00" y1="252.30" x2="438.00" y2="255.70" stroke="#3636ff" stroke-width="0.8"/>
<line x1="440.00" y1="252.30" x2="440.00" y2="255.70" stroke="#3636ff" stroke-width="0.8"/>
<line x1="465.00" y1="269.90" x2="465.00" y2="273.30" stroke="#3636ff" stroke-width="0.8"/>
<line x1="470.00" y1="269.90" x2="470.00" y2="273.30" stroke="#3636ff" stroke-width="0.8"/>
<line x1="524.00" y1="269.90" x2="524.00" y2="273.30" stroke="#3636ff" stroke-width="0.8"/>
<line x1="466.00" y1="266.30" x2="466.00" y2="269.70" stroke="#ff2a2a" stroke-width="0.8"/>
<line x1="470.00" y1="266.30" x2="470.00" y2="269.70" stroke="#ff2a2a" stroke-width="0.8"/>
<line x1="474.00" y1="266.30" x2="474.00" y2="269.70" stroke="#ff2a2a" stroke-width="0.8"/>
<line x1="488.00" y1="266.30" x2="488.00" y2="269.70" stroke="#ff2a2a" stroke-width="0.8"/>
<line x1="528.00" y1="275.60" x2="528.00" y2="279.00" stroke="#ff2a2a" stroke-width="0.8"/>
<line x1="532.00" y1="275.60" x2="532.00" y2="279.00" stroke="#ff2a2a" stroke-width="0.8"/>
<text x="485.00" y="186.50" font-size="5.65" fill="#1a1a1a" stroke="#1a1a1a" stroke-width="0.04">Low DBNDD1 TPM</text>
<text x="485.00" y="191.90" font-size="5.65" fill="#1a1a1a" stroke="#1a1a1a" stroke-width="0.04">High DBNDD1 TPM</text>
<text x="533.80" y="198.30" font-size="5.65" fill="#1a1a1a" stroke="#1a1a1a" stroke-width="0.04" text-anchor="end">Logrank p=0.63</text>
<text x="533.80" y="204.70" font-size="5.65" fill="#1a1a1a" stroke="#1a1a1a" stroke-width="0.04" text-anchor="end">HR(high)=1.1</text>
<text x="533.80" y="211.10" font-size="5.65" fill="#1a1a1a" stroke="#1a1a1a" stroke-width="0.04" text-anchor="end">p(HR)=0.63</text>
<text x="533.80" y="217.50" font-size="5.65" fill="#1a1a1a" stroke="#1a1a1a" stroke-width="0.04" text-anchor="end">n(high)=239</text>
<text x="533.80" y="223.90" font-size="5.65" fill="#1a1a1a" stroke="#1a1a1a" stroke-width="0.04" text-anchor="end">n(low)=239</text>
<line x1="472.50" y1="184.50" x2="482.50" y2="184.50" stroke="#3636ff" stroke-width="1.2"/>
<line x1="472.50" y1="189.90" x2="482.50" y2="189.90" stroke="#ff2a2a" stroke-width="1.2"/>
<text x="408.20" y="298.80" font-size="8.7" fill="#111" stroke="#111" stroke-width="0.22" font-weight="bold" textLength="21.8" lengthAdjust="spacingAndGlyphs">LUAD</text>
<text x="434.70" y="299.00" font-size="8.3" fill="#111" stroke="#111" stroke-width="0.22" font-style="italic">p=0.63</text>
<rect x="32.30" y="343.60" width="168.10" height="157.80" fill="none" stroke="#6e6e6e" stroke-width="1.1"/>
<rect x="57.80" y="353.40" width="137.40" height="123.90" fill="none" stroke="#888888" stroke-width="1.15"/>
<line x1="55.00" y1="472.60" x2="57.80" y2="472.60" stroke="#555" stroke-width="0.6"/>
<text x="47.80" y="472.60" font-size="6.0" fill="#1a1a1a" stroke="#1a1a1a" stroke-width="0.1" text-anchor="middle" transform="rotate(-90 47.80 472.60)" dominant-baseline="central">0.0</text>
<line x1="55.00" y1="449.74" x2="57.80" y2="449.74" stroke="#555" stroke-width="0.6"/>
<text x="47.80" y="449.74" font-size="6.0" fill="#1a1a1a" stroke="#1a1a1a" stroke-width="0.1" text-anchor="middle" transform="rotate(-90 47.80 449.74)" dominant-baseline="central">0.2</text>
<line x1="55.00" y1="426.88" x2="57.80" y2="426.88" stroke="#555" stroke-width="0.6"/>
<text x="47.80" y="426.88" font-size="6.0" fill="#1a1a1a" stroke="#1a1a1a" stroke-width="0.1" text-anchor="middle" transform="rotate(-90 47.80 426.88)" dominant-baseline="central">0.4</text>
<line x1="55.00" y1="404.02" x2="57.80" y2="404.02" stroke="#555" stroke-width="0.6"/>
<text x="47.80" y="404.02" font-size="6.0" fill="#1a1a1a" stroke="#1a1a1a" stroke-width="0.1" text-anchor="middle" transform="rotate(-90 47.80 404.02)" dominant-baseline="central">0.6</text>
<line x1="55.00" y1="381.16" x2="57.80" y2="381.16" stroke="#555" stroke-width="0.6"/>
<text x="47.80" y="381.16" font-size="6.0" fill="#1a1a1a" stroke="#1a1a1a" stroke-width="0.1" text-anchor="middle" transform="rotate(-90 47.80 381.16)" dominant-baseline="central">0.8</text>
<line x1="55.00" y1="358.30" x2="57.80" y2="358.30" stroke="#555" stroke-width="0.6"/>
<text x="47.80" y="358.30" font-size="6.0" fill="#1a1a1a" stroke="#1a1a1a" stroke-width="0.1" text-anchor="middle" transform="rotate(-90 47.80 358.30)" dominant-baseline="central">1.0</text>
<line x1="57.80" y1="477.30" x2="57.80" y2="480.10" stroke="#555" stroke-width="0.6"/>
<text x="57.80" y="488.30" font-size="6.0" fill="#1a1a1a" stroke="#1a1a1a" stroke-width="0.1" text-anchor="middle">0</text>
<line x1="97.10" y1="477.30" x2="97.10" y2="480.10" stroke="#555" stroke-width="0.6"/>
<text x="97.10" y="488.30" font-size="6.0" fill="#1a1a1a" stroke="#1a1a1a" stroke-width="0.1" text-anchor="middle">50</text>
<line x1="136.40" y1="477.30" x2="136.40" y2="480.10" stroke="#555" stroke-width="0.6"/>
<text x="136.40" y="488.30" font-size="6.0" fill="#1a1a1a" stroke="#1a1a1a" stroke-width="0.1" text-anchor="middle">100</text>
<line x1="175.70" y1="477.30" x2="175.70" y2="480.10" stroke="#555" stroke-width="0.6"/>
<text x="175.70" y="488.30" font-size="6.0" fill="#1a1a1a" stroke="#1a1a1a" stroke-width="0.1" text-anchor="middle">150</text>
<text x="126.50" y="351.20" font-size="8.5" fill="#111" stroke="#111" stroke-width="0.03" text-anchor="middle" textLength="82.5" lengthAdjust="spacingAndGlyphs">Disease Free Survival</text>
<text x="126.50" y="498.20" font-size="8.0" fill="#111" stroke="#111" stroke-width="0.05" text-anchor="middle" textLength="24.3" lengthAdjust="spacingAndGlyphs">Months</text>
<text x="37.10" y="415.35" font-size="8.0" fill="#1a1a1a" stroke="#1a1a1a" stroke-width="0.05" text-anchor="middle" textLength="51.5" lengthAdjust="spacingAndGlyphs" transform="rotate(-90 37.10 415.35)" dominant-baseline="central">Percent survival</text>
<polyline points="62.00,358.00 72.00,364.00 85.00,370.00 100.00,381.20 191.00,381.20" fill="none" stroke="#8c8cff" stroke-width="0.7" stroke-linejoin="round" stroke-dasharray="1.2,0.9"/>
<polyline points="62.00,365.00 72.00,372.00 85.00,382.00 100.00,393.00 112.00,398.00 124.00,406.20 191.00,406.20" fill="none" stroke="#8c8cff" stroke-width="0.7" stroke-linejoin="round" stroke-dasharray="1.2,0.9"/>
<polyline points="62.00,358.00 72.00,366.00 82.00,372.00 92.00,382.00 105.00,390.00 113.00,393.00 124.00,400.00" fill="none" stroke="#ff8a8a" stroke-width="0.7" stroke-linejoin="round" stroke-dasharray="1.2,0.9"/>
<polyline points="62.00,368.00 72.00,380.00 80.00,390.00 90.00,400.00 100.00,411.00 113.00,415.00 116.30,429.00 123.00,429.00 123.00,441.80 148.40,441.80" fill="none" stroke="#ff8a8a" stroke-width="0.7" stroke-linejoin="round" stroke-dasharray="1.2,0.9"/>
<polyline points="58.50,357.90 60.67,357.90 60.67,359.93 62.83,359.93 62.83,361.97 65.00,361.97 65.00,364.00 67.90,364.00 67.90,366.35 70.80,366.35 70.80,368.70 74.07,368.70 74.07,370.70 77.33,370.70 77.33,372.70 80.60,372.70 80.60,374.70 85.55,374.70 85.55,377.15 90.50,377.15 90.50,379.60 93.13,379.60 93.13,381.90 95.77,381.90 95.77,384.20 98.40,384.20 98.40,386.50 104.00,386.50 104.00,387.50 112.20,387.50 112.20,390.40 124.00,390.40 124.00,395.00 191.70,395.00" fill="none" stroke="#3636ff" stroke-width="1.35" stroke-linejoin="round"/>
<polyline points="58.00,357.90 60.20,357.90 60.20,359.88 62.40,359.88 62.40,361.85 64.60,361.85 64.60,363.82 66.80,363.82 66.80,365.80 69.43,365.80 69.43,368.10 72.07,368.10 72.07,370.40 74.70,370.40 74.70,372.70 77.65,372.70 77.65,375.15 80.60,375.15 80.60,377.60 82.10,377.60 82.10,379.83 83.60,379.83 83.60,382.05 85.10,382.05 85.10,384.27 86.60,384.27 86.60,386.50 90.50,386.50 90.50,388.95 94.40,388.95 94.40,391.40 96.40,391.40 96.40,393.70 98.40,393.70 98.40,396.00 100.40,396.00 100.40,398.30 113.20,398.30 113.20,399.30 113.20,405.20 114.50,405.20 114.50,407.50 115.80,407.50 115.80,409.80 117.10,409.80 117.10,412.10 123.00,412.10 123.00,422.60 148.70,422.60" fill="none" stroke="#ff2a2a" stroke-width="1.35" stroke-linejoin="round"/>
<line x1="130.00" y1="393.30" x2="130.00" y2="396.70" stroke="#3636ff" stroke-width="0.8"/>
<line x1="140.00" y1="393.30" x2="140.00" y2="396.70" stroke="#3636ff" stroke-width="0.8"/>
<line x1="150.00" y1="393.30" x2="150.00" y2="396.70" stroke="#3636ff" stroke-width="0.8"/>
<line x1="160.00" y1="393.30" x2="160.00" y2="396.70" stroke="#3636ff" stroke-width="0.8"/>
<line x1="170.00" y1="393.30" x2="170.00" y2="396.70" stroke="#3636ff" stroke-width="0.8"/>
<line x1="180.00" y1="393.30" x2="180.00" y2="396.70" stroke="#3636ff" stroke-width="0.8"/>
<line x1="188.00" y1="393.30" x2="188.00" y2="396.70" stroke="#3636ff" stroke-width="0.8"/>
<line x1="104.00" y1="385.80" x2="104.00" y2="389.20" stroke="#3636ff" stroke-width="0.8"/>
<line x1="107.00" y1="385.80" x2="107.00" y2="389.20" stroke="#3636ff" stroke-width="0.8"/>
<line x1="110.00" y1="385.80" x2="110.00" y2="389.20" stroke="#3636ff" stroke-width="0.8"/>
<line x1="127.00" y1="420.90" x2="127.00" y2="424.30" stroke="#ff2a2a" stroke-width="0.8"/>
<line x1="130.00" y1="420.90" x2="130.00" y2="424.30" stroke="#ff2a2a" stroke-width="0.8"/>
<line x1="148.00" y1="420.90" x2="148.00" y2="424.30" stroke="#ff2a2a" stroke-width="0.8"/>
<line x1="118.00" y1="410.40" x2="118.00" y2="413.80" stroke="#ff2a2a" stroke-width="0.8"/>
<text x="142.40" y="361.80" font-size="5.65" fill="#1a1a1a" stroke="#1a1a1a" stroke-width="0.04">Low DBNDD1 TPM</text>
<text x="142.40" y="367.20" font-size="5.65" fill="#1a1a1a" stroke="#1a1a1a" stroke-width="0.04">High DBNDD1 TPM</text>
<text x="191.20" y="373.60" font-size="5.65" fill="#1a1a1a" stroke="#1a1a1a" stroke-width="0.04" text-anchor="end">Logrank p=0.099</text>
<text x="191.20" y="380.00" font-size="5.65" fill="#1a1a1a" stroke="#1a1a1a" stroke-width="0.04" text-anchor="end">HR(high)=1.4</text>
<text x="191.20" y="386.40" font-size="5.65" fill="#1a1a1a" stroke="#1a1a1a" stroke-width="0.04" text-anchor="end">p(HR)=0.1</text>
<text x="191.20" y="392.80" font-size="5.65" fill="#1a1a1a" stroke="#1a1a1a" stroke-width="0.04" text-anchor="end">n(high)=344</text>
<text x="191.20" y="399.20" font-size="5.65" fill="#1a1a1a" stroke="#1a1a1a" stroke-width="0.04" text-anchor="end">n(low)=343</text>
<line x1="129.90" y1="359.80" x2="139.90" y2="359.80" stroke="#3636ff" stroke-width="1.2"/>
<line x1="129.90" y1="365.20" x2="139.90" y2="365.20" stroke="#ff2a2a" stroke-width="1.2"/>
<text x="64.90" y="474.10" font-size="8.7" fill="#111" stroke="#111" stroke-width="0.22" font-weight="bold" textLength="22.2" lengthAdjust="spacingAndGlyphs">PRAD</text>
<text x="95.10" y="474.30" font-size="8.1" fill="#c4121c" stroke="#c4121c" stroke-width="0.22" font-weight="bold" font-style="italic">p=0.099</text>
<rect x="208.20" y="344.00" width="164.10" height="157.40" fill="none" stroke="#6e6e6e" stroke-width="1.1"/>
<rect x="233.40" y="353.40" width="134.70" height="124.90" fill="none" stroke="#888888" stroke-width="1.15"/>
<line x1="230.60" y1="473.30" x2="233.40" y2="473.30" stroke="#555" stroke-width="0.6"/>
<text x="223.40" y="473.30" font-size="6.0" fill="#1a1a1a" stroke="#1a1a1a" stroke-width="0.1" text-anchor="middle" transform="rotate(-90 223.40 473.30)" dominant-baseline="central">0.0</text>
<line x1="230.60" y1="450.28" x2="233.40" y2="450.28" stroke="#555" stroke-width="0.6"/>
<text x="223.40" y="450.28" font-size="6.0" fill="#1a1a1a" stroke="#1a1a1a" stroke-width="0.1" text-anchor="middle" transform="rotate(-90 223.40 450.28)" dominant-baseline="central">0.2</text>
<line x1="230.60" y1="427.26" x2="233.40" y2="427.26" stroke="#555" stroke-width="0.6"/>
<text x="223.40" y="427.26" font-size="6.0" fill="#1a1a1a" stroke="#1a1a1a" stroke-width="0.1" text-anchor="middle" transform="rotate(-90 223.40 427.26)" dominant-baseline="central">0.4</text>
<line x1="230.60" y1="404.24" x2="233.40" y2="404.24" stroke="#555" stroke-width="0.6"/>
<text x="223.40" y="404.24" font-size="6.0" fill="#1a1a1a" stroke="#1a1a1a" stroke-width="0.1" text-anchor="middle" transform="rotate(-90 223.40 404.24)" dominant-baseline="central">0.6</text>
<line x1="230.60" y1="381.22" x2="233.40" y2="381.22" stroke="#555" stroke-width="0.6"/>
<text x="223.40" y="381.22" font-size="6.0" fill="#1a1a1a" stroke="#1a1a1a" stroke-width="0.1" text-anchor="middle" transform="rotate(-90 223.40 381.22)" dominant-baseline="central">0.8</text>
<line x1="230.60" y1="358.20" x2="233.40" y2="358.20" stroke="#555" stroke-width="0.6"/>
<text x="223.40" y="358.20" font-size="6.0" fill="#1a1a1a" stroke="#1a1a1a" stroke-width="0.1" text-anchor="middle" transform="rotate(-90 223.40 358.20)" dominant-baseline="central">1.0</text>
<line x1="233.20" y1="478.30" x2="233.20" y2="481.10" stroke="#555" stroke-width="0.6"/>
<text x="233.20" y="489.30" font-size="6.0" fill="#1a1a1a" stroke="#1a1a1a" stroke-width="0.1" text-anchor="middle">0</text>
<line x1="254.25" y1="478.30" x2="254.25" y2="481.10" stroke="#555" stroke-width="0.6"/>
<text x="254.25" y="489.30" font-size="6.0" fill="#1a1a1a" stroke="#1a1a1a" stroke-width="0.1" text-anchor="middle">20</text>
<line x1="275.30" y1="478.30" x2="275.30" y2="481.10" stroke="#555" stroke-width="0.6"/>
<text x="275.30" y="489.30" font-size="6.0" fill="#1a1a1a" stroke="#1a1a1a" stroke-width="0.1" text-anchor="middle">40</text>
<line x1="296.35" y1="478.30" x2="296.35" y2="481.10" stroke="#555" stroke-width="0.6"/>
<text x="296.35" y="489.30" font-size="6.0" fill="#1a1a1a" stroke="#1a1a1a" stroke-width="0.1" text-anchor="middle">60</text>
<line x1="317.40" y1="478.30" x2="317.40" y2="481.10" stroke="#555" stroke-width="0.6"/>
<text x="317.40" y="489.30" font-size="6.0" fill="#1a1a1a" stroke="#1a1a1a" stroke-width="0.1" text-anchor="middle">80</text>
<line x1="338.45" y1="478.30" x2="338.45" y2="481.10" stroke="#555" stroke-width="0.6"/>
<text x="338.45" y="489.30" font-size="6.0" fill="#1a1a1a" stroke="#1a1a1a" stroke-width="0.1" text-anchor="middle">100</text>
<line x1="359.50" y1="478.30" x2="359.50" y2="481.10" stroke="#555" stroke-width="0.6"/>
<text x="359.50" y="489.30" font-size="6.0" fill="#1a1a1a" stroke="#1a1a1a" stroke-width="0.1" text-anchor="middle">120</text>
<text x="300.75" y="351.20" font-size="8.5" fill="#111" stroke="#111" stroke-width="0.03" text-anchor="middle" textLength="82.5" lengthAdjust="spacingAndGlyphs">Disease Free Survival</text>
<text x="300.75" y="498.20" font-size="8.0" fill="#111" stroke="#111" stroke-width="0.05" text-anchor="middle" textLength="24.3" lengthAdjust="spacingAndGlyphs">Months</text>
<text x="213.00" y="415.85" font-size="8.0" fill="#1a1a1a" stroke="#1a1a1a" stroke-width="0.05" text-anchor="middle" textLength="51.5" lengthAdjust="spacingAndGlyphs" transform="rotate(-90 213.00 415.85)" dominant-baseline="central">Percent survival</text>
<polyline points="236.00,358.00 239.00,368.00 242.00,380.00 246.00,392.00 251.00,402.00 258.00,409.00 268.00,412.00 284.00,416.00 292.00,419.00 295.00,422.00 307.00,424.00 309.00,426.00 362.00,426.00" fill="none" stroke="#8c8cff" stroke-width="0.7" stroke-linejoin="round" stroke-dasharray="1.2,0.9"/>
<polyline points="236.00,368.00 239.00,382.00 242.00,396.00 246.00,406.00 252.00,416.00 260.00,426.00 272.00,433.00 286.00,439.00 294.00,446.00 310.00,452.40 364.00,452.40" fill="none" stroke="#8c8cff" stroke-width="0.7" stroke-linejoin="round" stroke-dasharray="1.2,0.9"/>
<polyline points="237.00,358.00 240.00,366.00 243.00,376.00 247.00,388.00 253.00,398.00 260.00,406.00 270.00,412.00 282.00,418.00 295.00,426.00 318.00,427.00" fill="none" stroke="#ff8a8a" stroke-width="0.7" stroke-linejoin="round" stroke-dasharray="1.2,0.9"/>
<polyline points="236.00,366.00 240.00,378.00 244.00,390.00 250.00,402.00 256.00,414.00 266.00,430.00 280.00,443.00 294.00,450.00 297.00,455.00 318.00,456.40" fill="none" stroke="#ff8a8a" stroke-width="0.7" stroke-linejoin="round" stroke-dasharray="1.2,0.9"/>
<polyline points="234.00,357.90 234.57,357.90 234.57,359.88 235.15,359.88 235.15,361.85 235.73,361.85 235.73,363.82 236.30,363.82 236.30,365.80 236.90,365.80 236.90,368.18 237.50,368.18 237.50,370.55 238.10,370.55 238.10,372.93 238.70,372.93 238.70,375.30 239.27,375.30 239.27,377.68 239.85,377.68 239.85,380.05 240.43,380.05 240.43,382.43 241.00,382.43 241.00,384.80 241.60,384.80 241.60,386.95 242.20,386.95 242.20,389.10 242.80,389.10 242.80,391.25 243.40,391.25 243.40,393.40 244.00,393.40 244.00,395.38 244.60,395.38 244.60,397.35 245.20,397.35 245.20,399.32 245.80,399.32 245.80,401.30 247.75,401.30 247.75,403.70 249.70,403.70 249.70,406.10 251.70,406.10 251.70,408.05 253.70,408.05 253.70,410.00 255.00,410.00 255.00,411.87 256.30,411.87 256.30,413.73 257.60,413.73 257.60,415.60 262.40,415.60 262.40,418.00 265.00,418.00 265.00,421.00 270.00,421.00 270.00,422.40 276.00,422.40 276.00,424.40 281.00,424.40 281.00,426.00 283.00,426.00 283.00,428.50 285.00,428.50 285.00,431.00 288.00,431.00 288.00,433.60 292.00,433.60 293.00,433.60 293.00,436.00 306.00,436.00 307.00,436.00 307.00,438.00 308.00,438.00 308.00,440.00 309.00,440.00 309.00,442.00 364.00,442.00" fill="none" stroke="#3636ff" stroke-width="1.35" stroke-linejoin="round"/>
<polyline points="234.00,357.90 234.78,357.90 234.78,359.88 235.55,359.88 235.55,361.85 236.32,361.85 236.32,363.82 237.10,363.82 237.10,365.80 237.70,365.80 237.70,368.18 238.30,368.18 238.30,370.55 238.90,370.55 238.90,372.93 239.50,372.93 239.50,375.30 240.27,375.30 240.27,377.67 241.03,377.67 241.03,380.03 241.80,380.03 241.80,382.40 242.60,382.40 242.60,385.15 243.40,385.15 243.40,387.90 244.20,387.90 244.20,390.27 245.00,390.27 245.00,392.63 245.80,392.63 245.80,395.00 246.60,395.00 246.60,396.87 247.40,396.87 247.40,398.73 248.20,398.73 248.20,400.60 249.75,400.60 249.75,403.35 251.30,403.35 251.30,406.10 253.30,406.10 253.30,408.45 255.30,408.45 255.30,410.80 258.40,410.80 258.40,414.00 262.00,414.00 262.00,416.00 264.00,416.00 264.00,418.00 265.00,418.00 265.00,420.20 266.00,420.20 266.00,422.40 268.00,422.40 268.00,424.20 270.00,424.20 270.00,426.00 272.00,426.00 272.00,428.00 274.00,428.00 274.00,430.00 276.50,430.00 276.50,432.20 279.00,432.20 279.00,434.40 291.00,434.40 292.00,434.40 292.00,436.70 293.00,436.70 293.00,439.00 295.00,439.00 295.00,442.00 295.50,442.00 295.50,443.80 296.00,443.80 296.00,445.60 318.00,445.60" fill="none" stroke="#ff2a2a" stroke-width="1.35" stroke-linejoin="round"/>
<line x1="312.00" y1="440.30" x2="312.00" y2="443.70" stroke="#3636ff" stroke-width="0.8"/>
<line x1="318.00" y1="440.30" x2="318.00" y2="443.70" stroke="#3636ff" stroke-width="0.8"/>
<line x1="347.00" y1="440.30" x2="347.00" y2="443.70" stroke="#3636ff" stroke-width="0.8"/>
<line x1="356.00" y1="440.30" x2="356.00" y2="443.70" stroke="#3636ff" stroke-width="0.8"/>
<line x1="362.00" y1="440.30" x2="362.00" y2="443.70" stroke="#3636ff" stroke-width="0.8"/>
<line x1="300.00" y1="434.30" x2="300.00" y2="437.70" stroke="#3636ff" stroke-width="0.8"/>
<line x1="296.00" y1="434.30" x2="296.00" y2="437.70" stroke="#3636ff" stroke-width="0.8"/>
<line x1="274.00" y1="422.30" x2="274.00" y2="425.70" stroke="#3636ff" stroke-width="0.8"/>
<line x1="300.00" y1="443.90" x2="300.00" y2="447.30" stroke="#ff2a2a" stroke-width="0.8"/>
<line x1="304.00" y1="443.90" x2="304.00" y2="447.30" stroke="#ff2a2a" stroke-width="0.8"/>
<line x1="284.00" y1="432.70" x2="284.00" y2="436.10" stroke="#ff2a2a" stroke-width="0.8"/>
<text x="315.30" y="361.80" font-size="5.65" fill="#1a1a1a" stroke="#1a1a1a" stroke-width="0.04">Low DBNDD1 TPM</text>
<text x="315.30" y="367.20" font-size="5.65" fill="#1a1a1a" stroke="#1a1a1a" stroke-width="0.04">High DBNDD1 TPM</text>
<text x="364.10" y="373.60" font-size="5.65" fill="#1a1a1a" stroke="#1a1a1a" stroke-width="0.04" text-anchor="end">Logrank p=0.86</text>
<text x="364.10" y="380.00" font-size="5.65" fill="#1a1a1a" stroke="#1a1a1a" stroke-width="0.04" text-anchor="end">HR(high)=0.97</text>
<text x="364.10" y="386.40" font-size="5.65" fill="#1a1a1a" stroke="#1a1a1a" stroke-width="0.04" text-anchor="end">p(HR)=0.86</text>
<text x="364.10" y="392.80" font-size="5.65" fill="#1a1a1a" stroke="#1a1a1a" stroke-width="0.04" text-anchor="end">n(high)=182</text>
<text x="364.10" y="399.20" font-size="5.65" fill="#1a1a1a" stroke="#1a1a1a" stroke-width="0.04" text-anchor="end">n(low)=182</text>
<line x1="302.80" y1="359.80" x2="312.80" y2="359.80" stroke="#3636ff" stroke-width="1.2"/>
<line x1="302.80" y1="365.20" x2="312.80" y2="365.20" stroke="#ff2a2a" stroke-width="1.2"/>
<text x="242.70" y="474.00" font-size="8.7" fill="#111" stroke="#111" stroke-width="0.22" font-weight="bold" textLength="18.5" lengthAdjust="spacingAndGlyphs">LIHC</text>
<text x="266.10" y="474.20" font-size="8.3" fill="#111" stroke="#111" stroke-width="0.22" font-style="italic">p=0.86</text>
<rect x="378.90" y="343.50" width="164.70" height="157.90" fill="none" stroke="#6e6e6e" stroke-width="1.1"/>
<rect x="403.40" y="353.20" width="136.00" height="124.50" fill="none" stroke="#888888" stroke-width="1.15"/>
<line x1="400.60" y1="472.50" x2="403.40" y2="472.50" stroke="#555" stroke-width="0.6"/>
<text x="393.40" y="472.50" font-size="6.0" fill="#1a1a1a" stroke="#1a1a1a" stroke-width="0.1" text-anchor="middle" transform="rotate(-90 393.40 472.50)" dominant-baseline="central">0.0</text>
<line x1="400.60" y1="449.56" x2="403.40" y2="449.56" stroke="#555" stroke-width="0.6"/>
<text x="393.40" y="449.56" font-size="6.0" fill="#1a1a1a" stroke="#1a1a1a" stroke-width="0.1" text-anchor="middle" transform="rotate(-90 393.40 449.56)" dominant-baseline="central">0.2</text>
<line x1="400.60" y1="426.62" x2="403.40" y2="426.62" stroke="#555" stroke-width="0.6"/>
<text x="393.40" y="426.62" font-size="6.0" fill="#1a1a1a" stroke="#1a1a1a" stroke-width="0.1" text-anchor="middle" transform="rotate(-90 393.40 426.62)" dominant-baseline="central">0.4</text>
<line x1="400.60" y1="403.68" x2="403.40" y2="403.68" stroke="#555" stroke-width="0.6"/>
<text x="393.40" y="403.68" font-size="6.0" fill="#1a1a1a" stroke="#1a1a1a" stroke-width="0.1" text-anchor="middle" transform="rotate(-90 393.40 403.68)" dominant-baseline="central">0.6</text>
<line x1="400.60" y1="380.74" x2="403.40" y2="380.74" stroke="#555" stroke-width="0.6"/>
<text x="393.40" y="380.74" font-size="6.0" fill="#1a1a1a" stroke="#1a1a1a" stroke-width="0.1" text-anchor="middle" transform="rotate(-90 393.40 380.74)" dominant-baseline="central">0.8</text>
<line x1="400.60" y1="357.80" x2="403.40" y2="357.80" stroke="#555" stroke-width="0.6"/>
<text x="393.40" y="357.80" font-size="6.0" fill="#1a1a1a" stroke="#1a1a1a" stroke-width="0.1" text-anchor="middle" transform="rotate(-90 393.40 357.80)" dominant-baseline="central">1.0</text>
<line x1="403.30" y1="477.70" x2="403.30" y2="480.50" stroke="#555" stroke-width="0.6"/>
<text x="403.30" y="488.70" font-size="6.0" fill="#1a1a1a" stroke="#1a1a1a" stroke-width="0.1" text-anchor="middle">0</text>
<line x1="430.18" y1="477.70" x2="430.18" y2="480.50" stroke="#555" stroke-width="0.6"/>
<text x="430.18" y="488.70" font-size="6.0" fill="#1a1a1a" stroke="#1a1a1a" stroke-width="0.1" text-anchor="middle">50</text>
<line x1="457.05" y1="477.70" x2="457.05" y2="480.50" stroke="#555" stroke-width="0.6"/>
<text x="457.05" y="488.70" font-size="6.0" fill="#1a1a1a" stroke="#1a1a1a" stroke-width="0.1" text-anchor="middle">100</text>
<line x1="483.93" y1="477.70" x2="483.93" y2="480.50" stroke="#555" stroke-width="0.6"/>
<text x="483.93" y="488.70" font-size="6.0" fill="#1a1a1a" stroke="#1a1a1a" stroke-width="0.1" text-anchor="middle">150</text>
<line x1="510.80" y1="477.70" x2="510.80" y2="480.50" stroke="#555" stroke-width="0.6"/>
<text x="510.80" y="488.70" font-size="6.0" fill="#1a1a1a" stroke="#1a1a1a" stroke-width="0.1" text-anchor="middle">200</text>
<line x1="537.67" y1="477.70" x2="537.67" y2="480.50" stroke="#555" stroke-width="0.6"/>
<text x="537.67" y="488.70" font-size="6.0" fill="#1a1a1a" stroke="#1a1a1a" stroke-width="0.1" text-anchor="middle">250</text>
<text x="471.40" y="351.00" font-size="8.5" fill="#111" stroke="#111" stroke-width="0.03" text-anchor="middle" textLength="82.5" lengthAdjust="spacingAndGlyphs">Disease Free Survival</text>
<text x="471.40" y="498.20" font-size="8.0" fill="#111" stroke="#111" stroke-width="0.05" text-anchor="middle" textLength="24.3" lengthAdjust="spacingAndGlyphs">Months</text>
<text x="383.70" y="415.45" font-size="8.0" fill="#1a1a1a" stroke="#1a1a1a" stroke-width="0.05" text-anchor="middle" textLength="51.5" lengthAdjust="spacingAndGlyphs" transform="rotate(-90 383.70 415.45)" dominant-baseline="central">Percent survival</text>
<polyline points="404.00,357.90 407.00,362.60 412.60,373.70 419.00,386.30 425.30,395.80 430.00,405.30 434.80,410.00 444.20,411.60 450.60,414.00 524.00,414.20" fill="none" stroke="#8c8cff" stroke-width="0.7" stroke-linejoin="round" stroke-dasharray="1.2,0.9"/>
<polyline points="405.00,362.00 409.50,376.90 414.00,389.50 420.00,402.00 427.00,414.80 431.60,424.20 436.00,432.00 448.50,440.00 448.50,454.50 524.00,454.50" fill="none" stroke="#8c8cff" stroke-width="0.7" stroke-linejoin="round" stroke-dasharray="1.2,0.9"/>
<polyline points="405.00,358.00 407.90,364.20 414.00,378.00 420.00,392.00 426.00,401.00 431.60,408.50 442.70,409.20 460.00,410.60 535.00,410.40" fill="none" stroke="#ff8a8a" stroke-width="0.7" stroke-linejoin="round" stroke-dasharray="1.2,0.9"/>
<polyline points="404.00,362.00 408.00,370.50 412.60,389.50 417.40,402.10 422.10,410.00 428.40,421.10 432.00,430.00 440.00,436.00 457.80,445.00 535.00,445.00" fill="none" stroke="#ff8a8a" stroke-width="0.7" stroke-linejoin="round" stroke-dasharray="1.2,0.9"/>
<polyline points="403.50,357.90 405.30,357.90 405.30,359.85 407.10,359.85 407.10,361.80 407.58,361.80 407.58,363.86 408.06,363.86 408.06,365.92 408.54,365.92 408.54,367.98 409.02,367.98 409.02,370.04 409.50,370.04 409.50,372.10 410.07,372.10 410.07,374.08 410.65,374.08 410.65,376.05 411.23,376.05 411.23,378.02 411.80,378.02 411.80,380.00 412.20,380.00 412.20,381.98 412.60,381.98 412.60,383.95 413.00,383.95 413.00,385.92 413.40,385.92 413.40,387.90 414.60,387.90 414.60,390.30 415.80,390.30 415.80,392.70 416.33,392.70 416.33,394.80 416.87,394.80 416.87,396.90 417.40,396.90 417.40,399.00 420.50,399.00 420.50,400.60 423.70,400.60 423.70,402.90 424.90,402.90 424.90,405.30 426.10,405.30 426.10,407.70 427.25,407.70 427.25,409.65 428.40,409.65 428.40,411.60 429.20,411.60 429.20,414.00 430.00,414.00 430.00,416.40 430.80,416.40 430.80,418.35 431.60,418.35 431.60,420.30 434.00,420.30 434.00,422.70 437.10,422.70 437.10,423.50 438.70,423.50 438.70,425.80 443.60,425.80 443.60,427.40 443.60,432.20 448.50,432.20 448.50,440.40 524.00,440.40" fill="none" stroke="#3636ff" stroke-width="1.35" stroke-linejoin="round"/>
<polyline points="403.50,357.90 406.30,357.90 406.30,361.10 406.83,361.10 406.83,363.20 407.37,363.20 407.37,365.30 407.90,365.30 407.90,367.40 408.30,367.40 408.30,369.38 408.70,369.38 408.70,371.35 409.10,371.35 409.10,373.32 409.50,373.32 409.50,375.30 410.07,375.30 410.07,377.68 410.65,377.68 410.65,380.05 411.23,380.05 411.23,382.43 411.80,382.43 411.80,384.80 412.20,384.80 412.20,387.15 412.60,387.15 412.60,389.50 413.00,389.50 413.00,391.85 413.40,391.85 413.40,394.20 414.60,394.20 414.60,396.60 415.80,396.60 415.80,399.00 416.87,399.00 416.87,401.10 417.93,401.10 417.93,403.20 419.00,403.20 419.00,405.30 419.77,405.30 419.77,407.27 420.55,407.27 420.55,409.25 421.33,409.25 421.33,411.23 422.10,411.23 422.10,413.20 423.70,413.20 423.70,415.55 425.30,415.55 425.30,417.90 429.20,417.90 429.20,419.50 432.40,419.50 432.40,420.30 437.90,420.30 437.90,421.10 441.10,421.10 441.10,423.50 457.80,423.50 457.80,431.90 533.60,431.90" fill="none" stroke="#ff2a2a" stroke-width="1.35" stroke-linejoin="round"/>
<line x1="468.00" y1="430.20" x2="468.00" y2="433.60" stroke="#ff2a2a" stroke-width="0.8"/>
<line x1="474.00" y1="430.20" x2="474.00" y2="433.60" stroke="#ff2a2a" stroke-width="0.8"/>
<line x1="488.00" y1="430.20" x2="488.00" y2="433.60" stroke="#ff2a2a" stroke-width="0.8"/>
<line x1="530.00" y1="430.20" x2="530.00" y2="433.60" stroke="#ff2a2a" stroke-width="0.8"/>
<line x1="533.00" y1="430.20" x2="533.00" y2="433.60" stroke="#ff2a2a" stroke-width="0.8"/>
<line x1="444.00" y1="421.80" x2="444.00" y2="425.20" stroke="#ff2a2a" stroke-width="0.8"/>
<line x1="450.00" y1="421.80" x2="450.00" y2="425.20" stroke="#ff2a2a" stroke-width="0.8"/>
<line x1="454.00" y1="421.80" x2="454.00" y2="425.20" stroke="#ff2a2a" stroke-width="0.8"/>
<line x1="454.00" y1="438.70" x2="454.00" y2="442.10" stroke="#3636ff" stroke-width="0.8"/>
<line x1="460.00" y1="438.70" x2="460.00" y2="442.10" stroke="#3636ff" stroke-width="0.8"/>
<line x1="524.00" y1="438.70" x2="524.00" y2="442.10" stroke="#3636ff" stroke-width="0.8"/>
<text x="486.60" y="361.60" font-size="5.65" fill="#1a1a1a" stroke="#1a1a1a" stroke-width="0.04">Low DBNDD1 TPM</text>
<text x="486.60" y="367.00" font-size="5.65" fill="#1a1a1a" stroke="#1a1a1a" stroke-width="0.04">High DBNDD1 TPM</text>
<text x="535.40" y="373.40" font-size="5.65" fill="#1a1a1a" stroke="#1a1a1a" stroke-width="0.04" text-anchor="end">Logrank p=0.33</text>
<text x="535.40" y="379.80" font-size="5.65" fill="#1a1a1a" stroke="#1a1a1a" stroke-width="0.04" text-anchor="end">HR(high)=1.2</text>
<text x="535.40" y="386.20" font-size="5.65" fill="#1a1a1a" stroke="#1a1a1a" stroke-width="0.04" text-anchor="end">p(HR)=0.33</text>
<text x="535.40" y="392.60" font-size="5.65" fill="#1a1a1a" stroke="#1a1a1a" stroke-width="0.04" text-anchor="end">n(high)=239</text>
<text x="535.40" y="399.00" font-size="5.65" fill="#1a1a1a" stroke="#1a1a1a" stroke-width="0.04" text-anchor="end">n(low)=239</text>
<line x1="474.10" y1="359.60" x2="484.10" y2="359.60" stroke="#3636ff" stroke-width="1.2"/>
<line x1="474.10" y1="365.00" x2="484.10" y2="365.00" stroke="#ff2a2a" stroke-width="1.2"/>
<text x="413.60" y="473.20" font-size="8.7" fill="#111" stroke="#111" stroke-width="0.22" font-weight="bold" textLength="21.8" lengthAdjust="spacingAndGlyphs">LUAD</text>
<text x="440.40" y="473.40" font-size="8.3" fill="#111" stroke="#111" stroke-width="0.22" font-style="italic">p=0.33</text>
</svg></body></html>
